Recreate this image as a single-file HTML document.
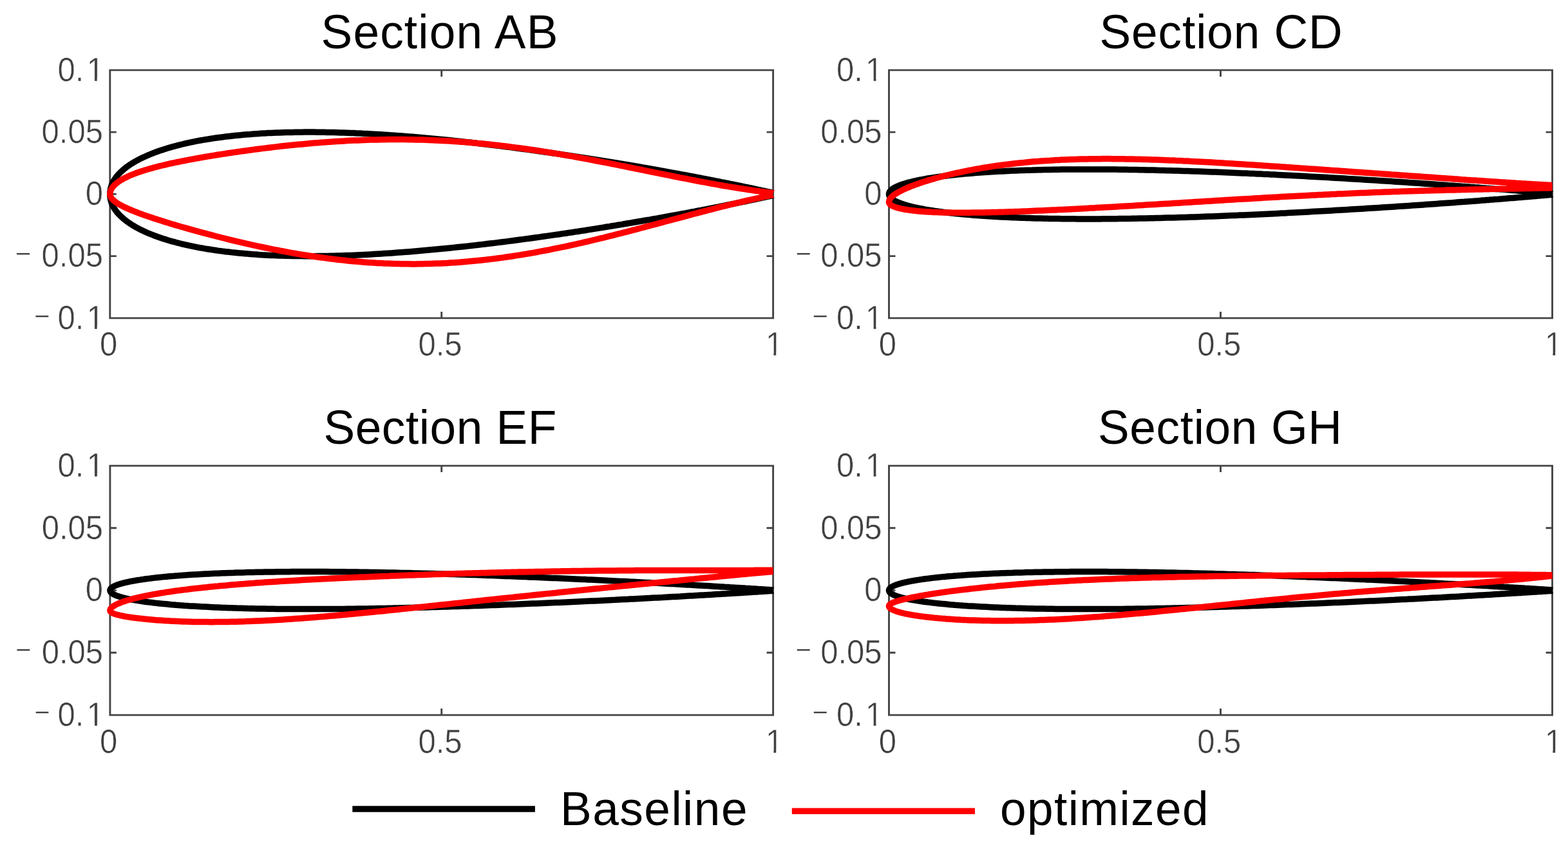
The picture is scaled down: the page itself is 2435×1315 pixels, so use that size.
<!DOCTYPE html>
<html><head><meta charset="utf-8"><title>Airfoil sections</title>
<style>html,body{margin:0;padding:0;background:#fff;overflow:hidden}svg{display:block}</style>
</head><body><svg width="2435" height="1315" viewBox="0 0 2435 1315" font-family="&quot;Liberation Sans&quot;, sans-serif"><rect width="100%" height="100%" fill="#fff"/><path d="M170.8,108.9 H1200.6 V493.9 H170.8 Z M170.8,493.9 h10 M1200.6,493.9 h-10 M170.8,397.6 h10 M1200.6,397.6 h-10 M170.8,301.4 h10 M1200.6,301.4 h-10 M170.8,205.1 h10 M1200.6,205.1 h-10 M170.8,108.9 h10 M1200.6,108.9 h-10 M170.8,493.9 v-10 M170.8,108.9 v10 M685.7,493.9 v-10 M685.7,108.9 v10 M1200.6,493.9 v-10 M1200.6,108.9 v10" fill="none" stroke="#444" stroke-width="2.9"/><path d="M1200.6,299.4 L1200.6,299.4 L1200.5,299.4 L1200.3,299.3 L1200.1,299.3 L1199.9,299.2 L1199.6,299.2 L1199.2,299.1 L1198.8,299.0 L1198.3,298.9 L1197.8,298.8 L1197.2,298.6 L1196.5,298.5 L1195.8,298.3 L1195.0,298.2 L1194.2,298.0 L1193.3,297.8 L1192.4,297.6 L1191.4,297.4 L1190.4,297.2 L1189.3,296.9 L1188.1,296.7 L1186.9,296.4 L1185.6,296.1 L1184.3,295.9 L1182.9,295.6 L1181.5,295.3 L1180.0,294.9 L1178.5,294.6 L1176.9,294.3 L1175.2,293.9 L1173.5,293.6 L1171.8,293.2 L1170.0,292.8 L1168.1,292.4 L1166.2,292.0 L1164.2,291.6 L1162.2,291.2 L1160.1,290.7 L1158.0,290.3 L1155.8,289.8 L1153.6,289.4 L1151.3,288.9 L1148.9,288.4 L1146.5,287.9 L1144.1,287.4 L1141.6,286.9 L1139.1,286.4 L1136.5,285.9 L1133.9,285.4 L1131.2,284.8 L1128.4,284.3 L1125.6,283.7 L1122.8,283.1 L1119.9,282.6 L1117.0,282.0 L1114.0,281.4 L1111.0,280.8 L1107.9,280.2 L1104.8,279.6 L1101.6,279.0 L1098.4,278.3 L1095.2,277.7 L1091.9,277.1 L1088.5,276.4 L1085.1,275.8 L1081.7,275.1 L1078.2,274.4 L1074.7,273.8 L1071.1,273.1 L1067.5,272.4 L1063.8,271.7 L1060.2,271.1 L1056.4,270.4 L1052.6,269.7 L1048.8,269.0 L1045.0,268.3 L1041.1,267.6 L1037.1,266.8 L1033.2,266.1 L1029.2,265.4 L1025.1,264.7 L1021.0,263.9 L1016.9,263.2 L1012.7,262.5 L1008.5,261.7 L1004.3,261.0 L1000.0,260.3 L995.7,259.5 L991.4,258.8 L987.0,258.0 L982.6,257.3 L978.2,256.5 L973.7,255.8 L969.2,255.0 L964.7,254.2 L960.1,253.5 L955.5,252.7 L950.9,252.0 L946.3,251.2 L941.6,250.5 L936.9,249.7 L932.1,248.9 L927.4,248.2 L922.6,247.4 L917.8,246.7 L912.9,245.9 L908.1,245.1 L903.2,244.4 L898.3,243.6 L893.3,242.9 L888.4,242.1 L883.4,241.4 L878.4,240.6 L873.3,239.9 L868.3,239.1 L863.2,238.4 L858.1,237.7 L853.0,236.9 L847.9,236.2 L842.8,235.5 L837.6,234.7 L832.4,234.0 L827.2,233.3 L822.0,232.6 L816.8,231.9 L811.5,231.2 L806.3,230.5 L801.0,229.8 L795.8,229.1 L790.5,228.4 L785.2,227.7 L779.8,227.1 L774.5,226.4 L769.2,225.7 L763.8,225.1 L758.5,224.5 L753.1,223.8 L747.8,223.2 L742.4,222.6 L737.0,221.9 L731.6,221.3 L726.2,220.7 L720.8,220.1 L715.4,219.5 L710.0,219.0 L704.6,218.4 L699.2,217.8 L693.8,217.3 L688.4,216.7 L683.0,216.2 L677.6,215.7 L672.2,215.2 L666.8,214.7 L661.4,214.2 L656.0,213.7 L650.6,213.2 L645.2,212.8 L639.8,212.3 L634.4,211.9 L629.0,211.5 L623.6,211.1 L618.3,210.7 L612.9,210.3 L607.6,209.9 L602.2,209.5 L596.9,209.2 L591.6,208.8 L586.2,208.5 L580.9,208.2 L575.6,207.9 L570.4,207.6 L565.1,207.4 L559.9,207.1 L554.6,206.9 L549.4,206.6 L544.2,206.4 L539.0,206.2 L533.8,206.1 L528.6,205.9 L523.5,205.7 L518.4,205.6 L513.3,205.5 L508.2,205.4 L503.1,205.3 L498.1,205.2 L493.0,205.2 L488.0,205.1 L483.0,205.1 L478.1,205.1 L473.1,205.1 L468.2,205.2 L463.3,205.2 L458.5,205.3 L453.6,205.4 L448.8,205.5 L444.0,205.6 L439.3,205.7 L434.5,205.9 L429.8,206.0 L425.1,206.2 L420.5,206.4 L415.9,206.6 L411.3,206.9 L406.7,207.1 L402.2,207.4 L397.7,207.7 L393.2,208.0 L388.8,208.4 L384.4,208.7 L380.0,209.1 L375.7,209.5 L371.4,209.9 L367.1,210.3 L362.9,210.7 L358.7,211.2 L354.5,211.7 L350.4,212.1 L346.3,212.7 L342.2,213.2 L338.2,213.7 L334.3,214.3 L330.3,214.9 L326.4,215.5 L322.6,216.1 L318.8,216.7 L315.0,217.4 L311.2,218.0 L307.6,218.7 L303.9,219.4 L300.3,220.1 L296.7,220.9 L293.2,221.6 L289.7,222.4 L286.3,223.2 L282.9,224.0 L279.5,224.8 L276.2,225.6 L273.0,226.5 L269.8,227.4 L266.6,228.2 L263.5,229.1 L260.4,230.0 L257.4,231.0 L254.4,231.9 L251.5,232.9 L248.6,233.8 L245.8,234.8 L243.0,235.8 L240.2,236.8 L237.5,237.9 L234.9,238.9 L232.3,240.0 L229.8,241.0 L227.3,242.1 L224.9,243.2 L222.5,244.3 L220.1,245.4 L217.8,246.5 L215.6,247.7 L213.4,248.8 L211.3,250.0 L209.2,251.2 L207.2,252.4 L205.2,253.6 L203.3,254.8 L201.4,256.0 L199.6,257.2 L197.9,258.5 L196.2,259.7 L194.5,261.0 L192.9,262.3 L191.4,263.6 L189.9,264.9 L188.5,266.2 L187.1,267.5 L185.8,268.8 L184.5,270.1 L183.3,271.5 L182.1,272.8 L181.0,274.2 L180.0,275.5 L179.0,276.9 L178.1,278.3 L177.2,279.7 L176.4,281.1 L175.6,282.5 L174.9,283.9 L174.2,285.3 L173.6,286.7 L173.1,288.2 L172.6,289.6 L172.2,291.1 L171.8,292.5 L171.5,294.0 L171.3,295.4 L171.1,296.9 L170.9,298.4 L170.8,299.9 L170.8,301.4 L170.8,302.9 L170.9,304.4 L171.1,305.9 L171.3,307.4 L171.5,308.8 L171.8,310.3 L172.2,311.7 L172.6,313.2 L173.1,314.6 L173.6,316.1 L174.2,317.5 L174.9,318.9 L175.6,320.3 L176.4,321.7 L177.2,323.1 L178.1,324.5 L179.0,325.9 L180.0,327.3 L181.0,328.6 L182.1,330.0 L183.3,331.3 L184.5,332.7 L185.8,334.0 L187.1,335.3 L188.5,336.6 L189.9,337.9 L191.4,339.2 L192.9,340.5 L194.5,341.8 L196.2,343.1 L197.9,344.3 L199.6,345.6 L201.4,346.8 L203.3,348.0 L205.2,349.2 L207.2,350.4 L209.2,351.6 L211.3,352.8 L213.4,354.0 L215.6,355.1 L217.8,356.3 L220.1,357.4 L222.5,358.5 L224.9,359.6 L227.3,360.7 L229.8,361.8 L232.3,362.8 L234.9,363.9 L237.5,364.9 L240.2,366.0 L243.0,367.0 L245.8,368.0 L248.6,369.0 L251.5,369.9 L254.4,370.9 L257.4,371.8 L260.4,372.8 L263.5,373.7 L266.6,374.6 L269.8,375.4 L273.0,376.3 L276.2,377.2 L279.5,378.0 L282.9,378.8 L286.3,379.6 L289.7,380.4 L293.2,381.2 L296.7,381.9 L300.3,382.7 L303.9,383.4 L307.6,384.1 L311.2,384.8 L315.0,385.4 L318.8,386.1 L322.6,386.7 L326.4,387.3 L330.3,387.9 L334.3,388.5 L338.2,389.1 L342.2,389.6 L346.3,390.1 L350.4,390.7 L354.5,391.1 L358.7,391.6 L362.9,392.1 L367.1,392.5 L371.4,392.9 L375.7,393.3 L380.0,393.7 L384.4,394.1 L388.8,394.4 L393.2,394.8 L397.7,395.1 L402.2,395.4 L406.7,395.7 L411.3,395.9 L415.9,396.2 L420.5,396.4 L425.1,396.6 L429.8,396.8 L434.5,396.9 L439.3,397.1 L444.0,397.2 L448.8,397.3 L453.6,397.4 L458.5,397.5 L463.3,397.6 L468.2,397.6 L473.1,397.7 L478.1,397.7 L483.0,397.7 L488.0,397.7 L493.0,397.6 L498.1,397.6 L503.1,397.5 L508.2,397.4 L513.3,397.3 L518.4,397.2 L523.5,397.1 L528.6,396.9 L533.8,396.7 L539.0,396.6 L544.2,396.4 L549.4,396.2 L554.6,395.9 L559.9,395.7 L565.1,395.4 L570.4,395.2 L575.6,394.9 L580.9,394.6 L586.2,394.3 L591.6,394.0 L596.9,393.6 L602.2,393.3 L607.6,392.9 L612.9,392.5 L618.3,392.1 L623.6,391.7 L629.0,391.3 L634.4,390.9 L639.8,390.5 L645.2,390.0 L650.6,389.6 L656.0,389.1 L661.4,388.6 L666.8,388.1 L672.2,387.6 L677.6,387.1 L683.0,386.6 L688.4,386.1 L693.8,385.5 L699.2,385.0 L704.6,384.4 L710.0,383.8 L715.4,383.3 L720.8,382.7 L726.2,382.1 L731.6,381.5 L737.0,380.9 L742.4,380.2 L747.8,379.6 L753.1,379.0 L758.5,378.3 L763.8,377.7 L769.2,377.1 L774.5,376.4 L779.8,375.7 L785.2,375.1 L790.5,374.4 L795.8,373.7 L801.0,373.0 L806.3,372.3 L811.5,371.6 L816.8,370.9 L822.0,370.2 L827.2,369.5 L832.4,368.8 L837.6,368.1 L842.8,367.3 L847.9,366.6 L853.0,365.9 L858.1,365.1 L863.2,364.4 L868.3,363.7 L873.3,362.9 L878.4,362.2 L883.4,361.4 L888.4,360.7 L893.3,359.9 L898.3,359.2 L903.2,358.4 L908.1,357.7 L912.9,356.9 L917.8,356.1 L922.6,355.4 L927.4,354.6 L932.1,353.9 L936.9,353.1 L941.6,352.3 L946.3,351.6 L950.9,350.8 L955.5,350.1 L960.1,349.3 L964.7,348.6 L969.2,347.8 L973.7,347.0 L978.2,346.3 L982.6,345.5 L987.0,344.8 L991.4,344.0 L995.7,343.3 L1000.0,342.5 L1004.3,341.8 L1008.5,341.1 L1012.7,340.3 L1016.9,339.6 L1021.0,338.9 L1025.1,338.1 L1029.2,337.4 L1033.2,336.7 L1037.1,336.0 L1041.1,335.2 L1045.0,334.5 L1048.8,333.8 L1052.6,333.1 L1056.4,332.4 L1060.2,331.7 L1063.8,331.1 L1067.5,330.4 L1071.1,329.7 L1074.7,329.0 L1078.2,328.4 L1081.7,327.7 L1085.1,327.0 L1088.5,326.4 L1091.9,325.7 L1095.2,325.1 L1098.4,324.5 L1101.6,323.8 L1104.8,323.2 L1107.9,322.6 L1111.0,322.0 L1114.0,321.4 L1117.0,320.8 L1119.9,320.2 L1122.8,319.7 L1125.6,319.1 L1128.4,318.5 L1131.2,318.0 L1133.9,317.4 L1136.5,316.9 L1139.1,316.4 L1141.6,315.9 L1144.1,315.4 L1146.5,314.9 L1148.9,314.4 L1151.3,313.9 L1153.6,313.4 L1155.8,313.0 L1158.0,312.5 L1160.1,312.1 L1162.2,311.6 L1164.2,311.2 L1166.2,310.8 L1168.1,310.4 L1170.0,310.0 L1171.8,309.6 L1173.5,309.2 L1175.2,308.9 L1176.9,308.5 L1178.5,308.2 L1180.0,307.9 L1181.5,307.5 L1182.9,307.2 L1184.3,306.9 L1185.6,306.7 L1186.9,306.4 L1188.1,306.1 L1189.3,305.9 L1190.4,305.6 L1191.4,305.4 L1192.4,305.2 L1193.3,305.0 L1194.2,304.8 L1195.0,304.6 L1195.8,304.5 L1196.5,304.3 L1197.2,304.2 L1197.8,304.0 L1198.3,303.9 L1198.8,303.8 L1199.2,303.7 L1199.6,303.6 L1199.9,303.6 L1200.1,303.5 L1200.3,303.5 L1200.5,303.4 L1200.6,303.4 L1200.6,303.4" fill="none" stroke="#000" stroke-width="9.5" stroke-linejoin="round" stroke-linecap="butt"/><path d="M1200.6,299.7 L1200.6,299.7 L1200.5,299.7 L1200.3,299.6 L1200.1,299.6 L1199.9,299.6 L1199.6,299.5 L1199.2,299.5 L1198.8,299.5 L1198.3,299.4 L1197.8,299.3 L1197.2,299.3 L1196.5,299.2 L1195.8,299.1 L1195.0,299.0 L1194.2,298.9 L1193.3,298.8 L1192.4,298.7 L1191.4,298.5 L1190.4,298.4 L1189.3,298.3 L1188.1,298.1 L1186.9,298.0 L1185.6,297.8 L1184.3,297.6 L1182.9,297.4 L1181.5,297.3 L1180.0,297.1 L1178.5,296.8 L1176.9,296.6 L1175.2,296.4 L1173.5,296.2 L1171.8,295.9 L1170.0,295.7 L1168.1,295.4 L1166.2,295.1 L1164.2,294.8 L1162.2,294.5 L1160.1,294.2 L1158.0,293.9 L1155.8,293.6 L1153.6,293.2 L1151.3,292.9 L1148.9,292.5 L1146.5,292.1 L1144.1,291.7 L1141.6,291.3 L1139.1,290.9 L1136.5,290.5 L1133.9,290.0 L1131.2,289.6 L1128.4,289.1 L1125.6,288.7 L1122.8,288.2 L1119.9,287.7 L1117.0,287.2 L1114.0,286.6 L1111.0,286.1 L1107.9,285.5 L1104.8,285.0 L1101.6,284.4 L1098.4,283.8 L1095.2,283.2 L1091.9,282.6 L1088.5,282.0 L1085.1,281.3 L1081.7,280.7 L1078.2,280.0 L1074.7,279.3 L1071.1,278.6 L1067.5,277.9 L1063.8,277.2 L1060.2,276.5 L1056.4,275.8 L1052.6,275.0 L1048.8,274.3 L1045.0,273.5 L1041.1,272.7 L1037.1,271.9 L1033.2,271.1 L1029.2,270.3 L1025.1,269.5 L1021.0,268.7 L1016.9,267.8 L1012.7,267.0 L1008.5,266.1 L1004.3,265.3 L1000.0,264.4 L995.7,263.5 L991.4,262.7 L987.0,261.8 L982.6,260.9 L978.2,260.0 L973.7,259.1 L969.2,258.2 L964.7,257.3 L960.1,256.4 L955.5,255.4 L950.9,254.5 L946.3,253.6 L941.6,252.7 L936.9,251.8 L932.1,250.9 L927.4,250.0 L922.6,249.0 L917.8,248.1 L912.9,247.2 L908.1,246.3 L903.2,245.4 L898.3,244.5 L893.3,243.6 L888.4,242.7 L883.4,241.8 L878.4,241.0 L873.3,240.1 L868.3,239.2 L863.2,238.4 L858.1,237.5 L853.0,236.7 L847.9,235.9 L842.8,235.1 L837.6,234.3 L832.4,233.5 L827.2,232.7 L822.0,232.0 L816.8,231.2 L811.5,230.5 L806.3,229.8 L801.0,229.1 L795.8,228.4 L790.5,227.7 L785.2,227.0 L779.8,226.4 L774.5,225.8 L769.2,225.2 L763.8,224.6 L758.5,224.0 L753.1,223.5 L747.8,223.0 L742.4,222.4 L737.0,222.0 L731.6,221.5 L726.2,221.0 L720.8,220.6 L715.4,220.2 L710.0,219.8 L704.6,219.5 L699.2,219.1 L693.8,218.8 L688.4,218.5 L683.0,218.2 L677.6,217.9 L672.2,217.7 L666.8,217.5 L661.4,217.3 L656.0,217.1 L650.6,217.0 L645.2,216.9 L639.8,216.8 L634.4,216.7 L629.0,216.6 L623.6,216.6 L618.3,216.5 L612.9,216.5 L607.6,216.6 L602.2,216.6 L596.9,216.7 L591.6,216.8 L586.2,216.9 L580.9,217.0 L575.6,217.1 L570.4,217.3 L565.1,217.5 L559.9,217.7 L554.6,217.9 L549.4,218.1 L544.2,218.3 L539.0,218.6 L533.8,218.9 L528.6,219.2 L523.5,219.5 L518.4,219.8 L513.3,220.2 L508.2,220.5 L503.1,220.9 L498.1,221.3 L493.0,221.7 L488.0,222.1 L483.0,222.5 L478.1,223.0 L473.1,223.4 L468.2,223.9 L463.3,224.3 L458.5,224.8 L453.6,225.3 L448.8,225.8 L444.0,226.3 L439.3,226.8 L434.5,227.3 L429.8,227.9 L425.1,228.4 L420.5,229.0 L415.9,229.5 L411.3,230.1 L406.7,230.6 L402.2,231.2 L397.7,231.8 L393.2,232.4 L388.8,233.0 L384.4,233.6 L380.0,234.2 L375.7,234.8 L371.4,235.4 L367.1,236.0 L362.9,236.6 L358.7,237.2 L354.5,237.8 L350.4,238.5 L346.3,239.1 L342.2,239.7 L338.2,240.3 L334.3,241.0 L330.3,241.6 L326.4,242.3 L322.6,242.9 L318.8,243.5 L315.0,244.2 L311.2,244.8 L307.6,245.5 L303.9,246.1 L300.3,246.8 L296.7,247.5 L293.2,248.1 L289.7,248.8 L286.3,249.5 L282.9,250.1 L279.5,250.8 L276.2,251.5 L273.0,252.2 L269.8,252.8 L266.6,253.5 L263.5,254.2 L260.4,254.9 L257.4,255.6 L254.4,256.3 L251.5,257.0 L248.6,257.7 L245.8,258.4 L243.0,259.1 L240.2,259.8 L237.5,260.6 L234.9,261.3 L232.3,262.0 L229.8,262.8 L227.3,263.5 L224.9,264.2 L222.5,265.0 L220.1,265.7 L217.8,266.5 L215.6,267.3 L213.4,268.0 L211.3,268.8 L209.2,269.6 L207.2,270.4 L205.2,271.2 L203.3,271.9 L201.4,272.7 L199.6,273.5 L197.9,274.4 L196.2,275.2 L194.5,276.0 L192.9,276.8 L191.4,277.6 L189.9,278.5 L188.5,279.3 L187.1,280.1 L185.8,281.0 L184.5,281.8 L183.3,282.7 L182.1,283.6 L181.0,284.4 L180.0,285.3 L179.0,286.2 L178.1,287.0 L177.2,287.9 L176.4,288.8 L175.6,289.7 L174.9,290.6 L174.2,291.5 L173.6,292.4 L173.1,293.3 L172.6,294.2 L172.2,295.1 L171.8,296.0 L171.5,296.9 L171.3,297.8 L171.1,298.7 L170.9,299.6 L170.8,300.5 L170.8,301.4 L170.8,302.1 L170.9,302.8 L171.1,303.5 L171.3,304.2 L171.5,304.9 L171.8,305.5 L172.2,306.2 L172.6,306.9 L173.1,307.6 L173.6,308.3 L174.2,309.0 L174.9,309.7 L175.6,310.4 L176.4,311.1 L177.2,311.9 L178.1,312.6 L179.0,313.3 L180.0,314.0 L181.0,314.7 L182.1,315.4 L183.3,316.2 L184.5,316.9 L185.8,317.6 L187.1,318.4 L188.5,319.1 L189.9,319.9 L191.4,320.6 L192.9,321.4 L194.5,322.1 L196.2,322.9 L197.9,323.7 L199.6,324.4 L201.4,325.2 L203.3,326.0 L205.2,326.8 L207.2,327.6 L209.2,328.4 L211.3,329.2 L213.4,330.0 L215.6,330.9 L217.8,331.7 L220.1,332.5 L222.5,333.4 L224.9,334.2 L227.3,335.1 L229.8,335.9 L232.3,336.8 L234.9,337.6 L237.5,338.5 L240.2,339.4 L243.0,340.3 L245.8,341.2 L248.6,342.1 L251.5,343.0 L254.4,343.9 L257.4,344.9 L260.4,345.8 L263.5,346.7 L266.6,347.7 L269.8,348.6 L273.0,349.6 L276.2,350.5 L279.5,351.5 L282.9,352.5 L286.3,353.4 L289.7,354.4 L293.2,355.4 L296.7,356.4 L300.3,357.4 L303.9,358.4 L307.6,359.4 L311.2,360.4 L315.0,361.4 L318.8,362.4 L322.6,363.4 L326.4,364.4 L330.3,365.4 L334.3,366.5 L338.2,367.5 L342.2,368.5 L346.3,369.5 L350.4,370.5 L354.5,371.6 L358.7,372.6 L362.9,373.6 L367.1,374.6 L371.4,375.6 L375.7,376.6 L380.0,377.6 L384.4,378.6 L388.8,379.6 L393.2,380.6 L397.7,381.6 L402.2,382.6 L406.7,383.5 L411.3,384.5 L415.9,385.4 L420.5,386.4 L425.1,387.3 L429.8,388.2 L434.5,389.1 L439.3,390.0 L444.0,390.9 L448.8,391.8 L453.6,392.7 L458.5,393.5 L463.3,394.4 L468.2,395.2 L473.1,396.0 L478.1,396.8 L483.0,397.5 L488.0,398.3 L493.0,399.0 L498.1,399.7 L503.1,400.4 L508.2,401.1 L513.3,401.7 L518.4,402.4 L523.5,403.0 L528.6,403.6 L533.8,404.1 L539.0,404.7 L544.2,405.2 L549.4,405.7 L554.6,406.1 L559.9,406.6 L565.1,407.0 L570.4,407.4 L575.6,407.7 L580.9,408.1 L586.2,408.4 L591.6,408.6 L596.9,408.9 L602.2,409.1 L607.6,409.3 L612.9,409.5 L618.3,409.6 L623.6,409.7 L629.0,409.8 L634.4,409.8 L639.8,409.9 L645.2,409.9 L650.6,409.8 L656.0,409.7 L661.4,409.6 L666.8,409.5 L672.2,409.3 L677.6,409.1 L683.0,408.9 L688.4,408.7 L693.8,408.4 L699.2,408.1 L704.6,407.7 L710.0,407.4 L715.4,407.0 L720.8,406.5 L726.2,406.1 L731.6,405.6 L737.0,405.1 L742.4,404.6 L747.8,404.0 L753.1,403.4 L758.5,402.8 L763.8,402.1 L769.2,401.5 L774.5,400.8 L779.8,400.1 L785.2,399.3 L790.5,398.5 L795.8,397.8 L801.0,396.9 L806.3,396.1 L811.5,395.3 L816.8,394.4 L822.0,393.5 L827.2,392.6 L832.4,391.7 L837.6,390.7 L842.8,389.7 L847.9,388.8 L853.0,387.8 L858.1,386.7 L863.2,385.7 L868.3,384.7 L873.3,383.6 L878.4,382.6 L883.4,381.5 L888.4,380.4 L893.3,379.3 L898.3,378.2 L903.2,377.1 L908.1,375.9 L912.9,374.8 L917.8,373.7 L922.6,372.5 L927.4,371.4 L932.1,370.2 L936.9,369.1 L941.6,367.9 L946.3,366.7 L950.9,365.6 L955.5,364.4 L960.1,363.2 L964.7,362.1 L969.2,360.9 L973.7,359.8 L978.2,358.6 L982.6,357.4 L987.0,356.3 L991.4,355.1 L995.7,354.0 L1000.0,352.9 L1004.3,351.7 L1008.5,350.6 L1012.7,349.5 L1016.9,348.4 L1021.0,347.3 L1025.1,346.2 L1029.2,345.1 L1033.2,344.0 L1037.1,343.0 L1041.1,341.9 L1045.0,340.9 L1048.8,339.8 L1052.6,338.8 L1056.4,337.8 L1060.2,336.8 L1063.8,335.8 L1067.5,334.8 L1071.1,333.9 L1074.7,332.9 L1078.2,332.0 L1081.7,331.1 L1085.1,330.2 L1088.5,329.3 L1091.9,328.4 L1095.2,327.6 L1098.4,326.7 L1101.6,325.9 L1104.8,325.1 L1107.9,324.3 L1111.0,323.5 L1114.0,322.7 L1117.0,321.9 L1119.9,321.2 L1122.8,320.5 L1125.6,319.8 L1128.4,319.1 L1131.2,318.4 L1133.9,317.7 L1136.5,317.1 L1139.1,316.4 L1141.6,315.8 L1144.1,315.2 L1146.5,314.6 L1148.9,314.1 L1151.3,313.5 L1153.6,313.0 L1155.8,312.4 L1158.0,311.9 L1160.1,311.4 L1162.2,310.9 L1164.2,310.5 L1166.2,310.0 L1168.1,309.6 L1170.0,309.2 L1171.8,308.8 L1173.5,308.4 L1175.2,308.0 L1176.9,307.6 L1178.5,307.3 L1180.0,306.9 L1181.5,306.6 L1182.9,306.3 L1184.3,306.0 L1185.6,305.7 L1186.9,305.4 L1188.1,305.2 L1189.3,304.9 L1190.4,304.7 L1191.4,304.5 L1192.4,304.3 L1193.3,304.1 L1194.2,303.9 L1195.0,303.7 L1195.8,303.5 L1196.5,303.4 L1197.2,303.3 L1197.8,303.1 L1198.3,303.0 L1198.8,302.9 L1199.2,302.8 L1199.6,302.8 L1199.9,302.7 L1200.1,302.6 L1200.3,302.6 L1200.5,302.6 L1200.6,302.6 L1200.6,302.6" fill="none" stroke="#f00" stroke-width="9.5" stroke-linejoin="round" stroke-linecap="butt"/><g fill="#404040" font-size="49" stroke="#fff" stroke-width="0.5"><text transform="translate(161.7,125.7) scale(1,1.06)" text-anchor="end">0.<tspan dx="4.1">1</tspan></text><text transform="translate(159.9,221.9) scale(1,1.06)" text-anchor="end">0.05</text><text transform="translate(159.9,318.2) scale(1,1.06)" text-anchor="end">0</text><text transform="translate(159.9,414.4) scale(1,1.06)" text-anchor="end">0.05</text><text x="23.8" y="408.3" font-size="42">−</text><text transform="translate(161.7,510.7) scale(1,1.06)" text-anchor="end">0.<tspan dx="4.1">1</tspan></text><text x="53.1" y="504.6" font-size="42">−</text><text transform="translate(168.6,551.8) scale(1,1.06)" text-anchor="middle">0</text><text transform="translate(683.5,551.8) scale(1,1.06)" text-anchor="middle">0.5</text><text transform="translate(1202.5,551.8) scale(1,1.06)" text-anchor="middle">1</text></g><path d="M137.20,121.30h9.75v6h-9.75z M150.75,121.30h9.3v6h-9.3z M137.20,506.30h9.75v6h-9.75z M150.75,506.30h9.3v6h-9.3z M1191.67,547.40h9.75v6h-9.75z M1205.22,547.40h9.3v6h-9.3z" fill="#fff"/><text transform="translate(498.5,74.7) scale(1,1.02)" font-size="73" letter-spacing="1.2" fill="#000">Section AB</text><path d="M1380.5,108.9 H2410.6 V493.9 H1380.5 Z M1380.5,493.9 h10 M2410.6,493.9 h-10 M1380.5,397.6 h10 M2410.6,397.6 h-10 M1380.5,301.4 h10 M2410.6,301.4 h-10 M1380.5,205.1 h10 M2410.6,205.1 h-10 M1380.5,108.9 h10 M2410.6,108.9 h-10 M1380.5,493.9 v-10 M1380.5,108.9 v10 M1895.5,493.9 v-10 M1895.5,108.9 v10 M2410.6,493.9 v-10 M2410.6,108.9 v10" fill="none" stroke="#444" stroke-width="2.9"/><path d="M2410.6,300.6 L2410.6,300.6 L2410.5,300.6 L2410.3,300.6 L2410.1,300.6 L2409.9,300.5 L2409.6,300.5 L2409.2,300.5 L2408.8,300.4 L2408.3,300.4 L2407.8,300.3 L2407.2,300.3 L2406.5,300.2 L2405.8,300.2 L2405.0,300.1 L2404.2,300.0 L2403.3,300.0 L2402.4,299.9 L2401.4,299.8 L2400.4,299.7 L2399.3,299.6 L2398.1,299.5 L2396.9,299.4 L2395.6,299.3 L2394.3,299.2 L2392.9,299.1 L2391.5,298.9 L2390.0,298.8 L2388.5,298.7 L2386.9,298.5 L2385.2,298.4 L2383.5,298.3 L2381.8,298.1 L2379.9,298.0 L2378.1,297.8 L2376.2,297.6 L2374.2,297.5 L2372.2,297.3 L2370.1,297.1 L2368.0,297.0 L2365.8,296.8 L2363.5,296.6 L2361.3,296.4 L2358.9,296.2 L2356.5,296.0 L2354.1,295.8 L2351.6,295.6 L2349.1,295.4 L2346.5,295.2 L2343.8,295.0 L2341.1,294.8 L2338.4,294.5 L2335.6,294.3 L2332.8,294.1 L2329.9,293.9 L2327.0,293.6 L2324.0,293.4 L2321.0,293.2 L2317.9,292.9 L2314.8,292.7 L2311.6,292.4 L2308.4,292.2 L2305.1,291.9 L2301.8,291.7 L2298.5,291.4 L2295.1,291.1 L2291.6,290.9 L2288.2,290.6 L2284.6,290.4 L2281.1,290.1 L2277.5,289.8 L2273.8,289.5 L2270.1,289.3 L2266.4,289.0 L2262.6,288.7 L2258.8,288.4 L2254.9,288.1 L2251.0,287.9 L2247.1,287.6 L2243.1,287.3 L2239.1,287.0 L2235.1,286.7 L2231.0,286.4 L2226.8,286.1 L2222.7,285.8 L2218.5,285.5 L2214.3,285.2 L2210.0,284.9 L2205.7,284.6 L2201.3,284.3 L2197.0,284.0 L2192.6,283.7 L2188.1,283.4 L2183.7,283.1 L2179.2,282.8 L2174.6,282.5 L2170.1,282.2 L2165.5,281.9 L2160.8,281.6 L2156.2,281.3 L2151.5,281.0 L2146.8,280.7 L2142.1,280.4 L2137.3,280.1 L2132.5,279.8 L2127.7,279.5 L2122.8,279.2 L2118.0,278.9 L2113.1,278.6 L2108.2,278.3 L2103.2,278.0 L2098.3,277.7 L2093.3,277.4 L2088.3,277.1 L2083.2,276.8 L2078.2,276.5 L2073.1,276.2 L2068.0,275.9 L2062.9,275.6 L2057.8,275.3 L2052.6,275.0 L2047.5,274.7 L2042.3,274.5 L2037.1,274.2 L2031.9,273.9 L2026.7,273.6 L2021.4,273.3 L2016.2,273.0 L2010.9,272.8 L2005.6,272.5 L2000.3,272.2 L1995.0,271.9 L1989.7,271.7 L1984.4,271.4 L1979.1,271.1 L1973.7,270.9 L1968.4,270.6 L1963.0,270.4 L1957.6,270.1 L1952.3,269.9 L1946.9,269.6 L1941.5,269.4 L1936.1,269.1 L1930.7,268.9 L1925.3,268.7 L1919.9,268.4 L1914.5,268.2 L1909.1,268.0 L1903.7,267.8 L1898.3,267.5 L1892.8,267.3 L1887.4,267.1 L1882.0,266.9 L1876.6,266.7 L1871.2,266.5 L1865.8,266.3 L1860.4,266.1 L1855.0,265.9 L1849.6,265.8 L1844.2,265.6 L1838.8,265.4 L1833.5,265.3 L1828.1,265.1 L1822.7,264.9 L1817.4,264.8 L1812.0,264.7 L1806.7,264.5 L1801.4,264.4 L1796.1,264.2 L1790.8,264.1 L1785.5,264.0 L1780.2,263.9 L1774.9,263.8 L1769.7,263.7 L1764.4,263.6 L1759.2,263.5 L1754.0,263.4 L1748.8,263.3 L1743.6,263.3 L1738.5,263.2 L1733.3,263.1 L1728.2,263.1 L1723.1,263.0 L1718.0,263.0 L1712.9,263.0 L1707.9,262.9 L1702.8,262.9 L1697.8,262.9 L1692.8,262.9 L1687.9,262.9 L1682.9,262.9 L1678.0,262.9 L1673.1,262.9 L1668.3,263.0 L1663.4,263.0 L1658.6,263.0 L1653.8,263.1 L1649.0,263.1 L1644.3,263.2 L1639.6,263.3 L1634.9,263.3 L1630.3,263.4 L1625.6,263.5 L1621.0,263.6 L1616.5,263.7 L1611.9,263.8 L1607.4,263.9 L1603.0,264.1 L1598.5,264.2 L1594.1,264.3 L1589.8,264.5 L1585.4,264.6 L1581.1,264.8 L1576.8,265.0 L1572.6,265.1 L1568.4,265.3 L1564.3,265.5 L1560.1,265.7 L1556.0,265.9 L1552.0,266.1 L1548.0,266.3 L1544.0,266.6 L1540.1,266.8 L1536.2,267.0 L1532.3,267.3 L1528.5,267.5 L1524.7,267.8 L1521.0,268.1 L1517.3,268.3 L1513.6,268.6 L1510.0,268.9 L1506.5,269.2 L1502.9,269.5 L1499.5,269.8 L1496.0,270.1 L1492.6,270.4 L1489.3,270.8 L1486.0,271.1 L1482.7,271.4 L1479.5,271.8 L1476.3,272.1 L1473.2,272.5 L1470.1,272.9 L1467.1,273.2 L1464.1,273.6 L1461.2,274.0 L1458.3,274.4 L1455.5,274.8 L1452.7,275.2 L1450.0,275.6 L1447.3,276.0 L1444.6,276.4 L1442.0,276.8 L1439.5,277.2 L1437.0,277.7 L1434.6,278.1 L1432.2,278.6 L1429.8,279.0 L1427.6,279.5 L1425.3,279.9 L1423.1,280.4 L1421.0,280.8 L1418.9,281.3 L1416.9,281.8 L1414.9,282.3 L1413.0,282.8 L1411.2,283.2 L1409.3,283.7 L1407.6,284.2 L1405.9,284.7 L1404.2,285.2 L1402.6,285.7 L1401.1,286.3 L1399.6,286.8 L1398.2,287.3 L1396.8,287.8 L1395.5,288.4 L1394.2,288.9 L1393.0,289.4 L1391.8,290.0 L1390.7,290.5 L1389.7,291.1 L1388.7,291.6 L1387.8,292.2 L1386.9,292.7 L1386.1,293.3 L1385.3,293.8 L1384.6,294.4 L1383.9,295.0 L1383.3,295.5 L1382.8,296.1 L1382.3,296.7 L1381.9,297.3 L1381.5,297.8 L1381.2,298.4 L1381.0,299.0 L1380.8,299.6 L1380.6,300.2 L1380.5,300.8 L1380.5,301.4 L1380.5,302.0 L1380.6,302.6 L1380.8,303.2 L1381.0,303.8 L1381.2,304.4 L1381.5,305.0 L1381.9,305.5 L1382.3,306.1 L1382.8,306.7 L1383.3,307.3 L1383.9,307.8 L1384.6,308.4 L1385.3,309.0 L1386.1,309.5 L1386.9,310.1 L1387.8,310.6 L1388.7,311.2 L1389.7,311.7 L1390.7,312.3 L1391.8,312.8 L1393.0,313.4 L1394.2,313.9 L1395.5,314.4 L1396.8,315.0 L1398.2,315.5 L1399.6,316.0 L1401.1,316.5 L1402.6,317.1 L1404.2,317.6 L1405.9,318.1 L1407.6,318.6 L1409.3,319.1 L1411.2,319.6 L1413.0,320.0 L1414.9,320.5 L1416.9,321.0 L1418.9,321.5 L1421.0,322.0 L1423.1,322.4 L1425.3,322.9 L1427.6,323.3 L1429.8,323.8 L1432.2,324.2 L1434.6,324.7 L1437.0,325.1 L1439.5,325.6 L1442.0,326.0 L1444.6,326.4 L1447.3,326.8 L1450.0,327.2 L1452.7,327.6 L1455.5,328.0 L1458.3,328.4 L1461.2,328.8 L1464.1,329.2 L1467.1,329.6 L1470.1,329.9 L1473.2,330.3 L1476.3,330.7 L1479.5,331.0 L1482.7,331.4 L1486.0,331.7 L1489.3,332.0 L1492.6,332.4 L1496.0,332.7 L1499.5,333.0 L1502.9,333.3 L1506.5,333.6 L1510.0,333.9 L1513.6,334.2 L1517.3,334.5 L1521.0,334.7 L1524.7,335.0 L1528.5,335.3 L1532.3,335.5 L1536.2,335.8 L1540.1,336.0 L1544.0,336.2 L1548.0,336.5 L1552.0,336.7 L1556.0,336.9 L1560.1,337.1 L1564.3,337.3 L1568.4,337.5 L1572.6,337.7 L1576.8,337.8 L1581.1,338.0 L1585.4,338.2 L1589.8,338.3 L1594.1,338.5 L1598.5,338.6 L1603.0,338.7 L1607.4,338.9 L1611.9,339.0 L1616.5,339.1 L1621.0,339.2 L1625.6,339.3 L1630.3,339.4 L1634.9,339.5 L1639.6,339.5 L1644.3,339.6 L1649.0,339.7 L1653.8,339.7 L1658.6,339.8 L1663.4,339.8 L1668.3,339.8 L1673.1,339.9 L1678.0,339.9 L1682.9,339.9 L1687.9,339.9 L1692.8,339.9 L1697.8,339.9 L1702.8,339.9 L1707.9,339.9 L1712.9,339.8 L1718.0,339.8 L1723.1,339.8 L1728.2,339.7 L1733.3,339.7 L1738.5,339.6 L1743.6,339.5 L1748.8,339.5 L1754.0,339.4 L1759.2,339.3 L1764.4,339.2 L1769.7,339.1 L1774.9,339.0 L1780.2,338.9 L1785.5,338.8 L1790.8,338.7 L1796.1,338.6 L1801.4,338.4 L1806.7,338.3 L1812.0,338.1 L1817.4,338.0 L1822.7,337.9 L1828.1,337.7 L1833.5,337.5 L1838.8,337.4 L1844.2,337.2 L1849.6,337.0 L1855.0,336.9 L1860.4,336.7 L1865.8,336.5 L1871.2,336.3 L1876.6,336.1 L1882.0,335.9 L1887.4,335.7 L1892.8,335.5 L1898.3,335.3 L1903.7,335.0 L1909.1,334.8 L1914.5,334.6 L1919.9,334.4 L1925.3,334.1 L1930.7,333.9 L1936.1,333.7 L1941.5,333.4 L1946.9,333.2 L1952.3,332.9 L1957.6,332.7 L1963.0,332.4 L1968.4,332.2 L1973.7,331.9 L1979.1,331.7 L1984.4,331.4 L1989.7,331.1 L1995.0,330.9 L2000.3,330.6 L2005.6,330.3 L2010.9,330.0 L2016.2,329.8 L2021.4,329.5 L2026.7,329.2 L2031.9,328.9 L2037.1,328.6 L2042.3,328.3 L2047.5,328.1 L2052.6,327.8 L2057.8,327.5 L2062.9,327.2 L2068.0,326.9 L2073.1,326.6 L2078.2,326.3 L2083.2,326.0 L2088.3,325.7 L2093.3,325.4 L2098.3,325.1 L2103.2,324.8 L2108.2,324.5 L2113.1,324.2 L2118.0,323.9 L2122.8,323.6 L2127.7,323.3 L2132.5,323.0 L2137.3,322.7 L2142.1,322.4 L2146.8,322.1 L2151.5,321.8 L2156.2,321.5 L2160.8,321.2 L2165.5,320.9 L2170.1,320.6 L2174.6,320.3 L2179.2,320.0 L2183.7,319.7 L2188.1,319.4 L2192.6,319.1 L2197.0,318.8 L2201.3,318.5 L2205.7,318.2 L2210.0,317.9 L2214.3,317.6 L2218.5,317.3 L2222.7,317.0 L2226.8,316.7 L2231.0,316.4 L2235.1,316.1 L2239.1,315.8 L2243.1,315.5 L2247.1,315.2 L2251.0,314.9 L2254.9,314.7 L2258.8,314.4 L2262.6,314.1 L2266.4,313.8 L2270.1,313.5 L2273.8,313.3 L2277.5,313.0 L2281.1,312.7 L2284.6,312.4 L2288.2,312.2 L2291.6,311.9 L2295.1,311.7 L2298.5,311.4 L2301.8,311.1 L2305.1,310.9 L2308.4,310.6 L2311.6,310.4 L2314.8,310.1 L2317.9,309.9 L2321.0,309.6 L2324.0,309.4 L2327.0,309.2 L2329.9,308.9 L2332.8,308.7 L2335.6,308.5 L2338.4,308.3 L2341.1,308.0 L2343.8,307.8 L2346.5,307.6 L2349.1,307.4 L2351.6,307.2 L2354.1,307.0 L2356.5,306.8 L2358.9,306.6 L2361.3,306.4 L2363.5,306.2 L2365.8,306.0 L2368.0,305.8 L2370.1,305.7 L2372.2,305.5 L2374.2,305.3 L2376.2,305.2 L2378.1,305.0 L2379.9,304.8 L2381.8,304.7 L2383.5,304.5 L2385.2,304.4 L2386.9,304.3 L2388.5,304.1 L2390.0,304.0 L2391.5,303.9 L2392.9,303.7 L2394.3,303.6 L2395.6,303.5 L2396.9,303.4 L2398.1,303.3 L2399.3,303.2 L2400.4,303.1 L2401.4,303.0 L2402.4,302.9 L2403.3,302.8 L2404.2,302.8 L2405.0,302.7 L2405.8,302.6 L2406.5,302.6 L2407.2,302.5 L2407.8,302.5 L2408.3,302.4 L2408.8,302.4 L2409.2,302.3 L2409.6,302.3 L2409.9,302.3 L2410.1,302.2 L2410.3,302.2 L2410.5,302.2 L2410.6,302.2 L2410.6,302.2" fill="none" stroke="#000" stroke-width="9.5" stroke-linejoin="round" stroke-linecap="butt"/><path d="M2410.6,287.5 L2410.6,287.5 L2410.5,287.5 L2410.3,287.5 L2410.1,287.5 L2409.9,287.5 L2409.6,287.5 L2409.2,287.5 L2408.8,287.4 L2408.3,287.4 L2407.8,287.4 L2407.2,287.4 L2406.5,287.3 L2405.8,287.3 L2405.0,287.3 L2404.2,287.2 L2403.3,287.2 L2402.4,287.1 L2401.4,287.1 L2400.4,287.0 L2399.3,286.9 L2398.1,286.9 L2396.9,286.8 L2395.6,286.7 L2394.3,286.7 L2392.9,286.6 L2391.5,286.5 L2390.0,286.4 L2388.5,286.3 L2386.9,286.3 L2385.2,286.2 L2383.5,286.1 L2381.8,286.0 L2379.9,285.9 L2378.1,285.7 L2376.2,285.6 L2374.2,285.5 L2372.2,285.4 L2370.1,285.3 L2368.0,285.1 L2365.8,285.0 L2363.5,284.9 L2361.3,284.7 L2358.9,284.6 L2356.5,284.4 L2354.1,284.3 L2351.6,284.1 L2349.1,284.0 L2346.5,283.8 L2343.8,283.6 L2341.1,283.5 L2338.4,283.3 L2335.6,283.1 L2332.8,282.9 L2329.9,282.7 L2327.0,282.5 L2324.0,282.3 L2321.0,282.1 L2317.9,281.9 L2314.8,281.7 L2311.6,281.5 L2308.4,281.3 L2305.1,281.1 L2301.8,280.8 L2298.5,280.6 L2295.1,280.4 L2291.6,280.1 L2288.2,279.9 L2284.6,279.7 L2281.1,279.4 L2277.5,279.2 L2273.8,278.9 L2270.1,278.7 L2266.4,278.4 L2262.6,278.1 L2258.8,277.9 L2254.9,277.6 L2251.0,277.3 L2247.1,277.1 L2243.1,276.8 L2239.1,276.5 L2235.1,276.2 L2231.0,275.9 L2226.8,275.6 L2222.7,275.3 L2218.5,275.0 L2214.3,274.7 L2210.0,274.4 L2205.7,274.1 L2201.3,273.8 L2197.0,273.5 L2192.6,273.2 L2188.1,272.9 L2183.7,272.6 L2179.2,272.3 L2174.6,271.9 L2170.1,271.6 L2165.5,271.3 L2160.8,271.0 L2156.2,270.6 L2151.5,270.3 L2146.8,270.0 L2142.1,269.6 L2137.3,269.3 L2132.5,269.0 L2127.7,268.6 L2122.8,268.3 L2118.0,267.9 L2113.1,267.6 L2108.2,267.2 L2103.2,266.9 L2098.3,266.5 L2093.3,266.2 L2088.3,265.8 L2083.2,265.5 L2078.2,265.1 L2073.1,264.8 L2068.0,264.4 L2062.9,264.1 L2057.8,263.7 L2052.6,263.3 L2047.5,263.0 L2042.3,262.6 L2037.1,262.3 L2031.9,261.9 L2026.7,261.5 L2021.4,261.2 L2016.2,260.8 L2010.9,260.4 L2005.6,260.1 L2000.3,259.7 L1995.0,259.3 L1989.7,259.0 L1984.4,258.6 L1979.1,258.3 L1973.7,257.9 L1968.4,257.5 L1963.0,257.2 L1957.6,256.8 L1952.3,256.5 L1946.9,256.1 L1941.5,255.8 L1936.1,255.4 L1930.7,255.1 L1925.3,254.7 L1919.9,254.4 L1914.5,254.1 L1909.1,253.7 L1903.7,253.4 L1898.3,253.1 L1892.8,252.7 L1887.4,252.4 L1882.0,252.1 L1876.6,251.8 L1871.2,251.5 L1865.8,251.2 L1860.4,250.9 L1855.0,250.7 L1849.6,250.4 L1844.2,250.1 L1838.8,249.9 L1833.5,249.6 L1828.1,249.4 L1822.7,249.1 L1817.4,248.9 L1812.0,248.7 L1806.7,248.5 L1801.4,248.3 L1796.1,248.1 L1790.8,247.9 L1785.5,247.7 L1780.2,247.6 L1774.9,247.4 L1769.7,247.3 L1764.4,247.2 L1759.2,247.1 L1754.0,247.0 L1748.8,246.9 L1743.6,246.8 L1738.5,246.7 L1733.3,246.7 L1728.2,246.7 L1723.1,246.6 L1718.0,246.6 L1712.9,246.6 L1707.9,246.7 L1702.8,246.7 L1697.8,246.8 L1692.8,246.8 L1687.9,246.9 L1682.9,247.0 L1678.0,247.1 L1673.1,247.3 L1668.3,247.4 L1663.4,247.6 L1658.6,247.7 L1653.8,247.9 L1649.0,248.1 L1644.3,248.4 L1639.6,248.6 L1634.9,248.9 L1630.3,249.2 L1625.6,249.4 L1621.0,249.8 L1616.5,250.1 L1611.9,250.4 L1607.4,250.8 L1603.0,251.1 L1598.5,251.5 L1594.1,251.9 L1589.8,252.4 L1585.4,252.8 L1581.1,253.2 L1576.8,253.7 L1572.6,254.2 L1568.4,254.7 L1564.3,255.2 L1560.1,255.7 L1556.0,256.2 L1552.0,256.8 L1548.0,257.3 L1544.0,257.9 L1540.1,258.5 L1536.2,259.1 L1532.3,259.7 L1528.5,260.3 L1524.7,260.9 L1521.0,261.6 L1517.3,262.2 L1513.6,262.9 L1510.0,263.6 L1506.5,264.3 L1502.9,264.9 L1499.5,265.6 L1496.0,266.3 L1492.6,267.1 L1489.3,267.8 L1486.0,268.5 L1482.7,269.2 L1479.5,270.0 L1476.3,270.7 L1473.2,271.5 L1470.1,272.2 L1467.1,273.0 L1464.1,273.7 L1461.2,274.5 L1458.3,275.3 L1455.5,276.0 L1452.7,276.8 L1450.0,277.6 L1447.3,278.4 L1444.6,279.1 L1442.0,279.9 L1439.5,280.7 L1437.0,281.5 L1434.6,282.3 L1432.2,283.0 L1429.8,283.8 L1427.6,284.6 L1425.3,285.4 L1423.1,286.1 L1421.0,286.9 L1418.9,287.7 L1416.9,288.4 L1414.9,289.2 L1413.0,290.0 L1411.2,290.7 L1409.3,291.5 L1407.6,292.2 L1405.9,293.0 L1404.2,293.7 L1402.6,294.5 L1401.1,295.2 L1399.6,296.0 L1398.2,296.7 L1396.8,297.4 L1395.5,298.1 L1394.2,298.9 L1393.0,299.6 L1391.8,300.3 L1390.7,301.0 L1389.7,301.7 L1388.7,302.4 L1387.8,303.1 L1386.9,303.8 L1386.1,304.5 L1385.3,305.2 L1384.6,305.9 L1383.9,306.6 L1383.3,307.2 L1382.8,307.9 L1382.3,308.6 L1381.9,309.3 L1381.5,309.9 L1381.2,310.6 L1381.0,311.3 L1380.8,311.9 L1380.6,312.6 L1380.5,313.3 L1380.5,313.9 L1380.5,314.3 L1380.6,314.8 L1380.8,315.2 L1381.0,315.6 L1381.2,316.1 L1381.5,316.5 L1381.9,316.9 L1382.3,317.3 L1382.8,317.7 L1383.3,318.2 L1383.9,318.6 L1384.6,319.0 L1385.3,319.4 L1386.1,319.8 L1386.9,320.2 L1387.8,320.5 L1388.7,320.9 L1389.7,321.3 L1390.7,321.7 L1391.8,322.0 L1393.0,322.4 L1394.2,322.7 L1395.5,323.1 L1396.8,323.4 L1398.2,323.7 L1399.6,324.1 L1401.1,324.4 L1402.6,324.7 L1404.2,325.0 L1405.9,325.3 L1407.6,325.6 L1409.3,325.8 L1411.2,326.1 L1413.0,326.4 L1414.9,326.6 L1416.9,326.9 L1418.9,327.1 L1421.0,327.3 L1423.1,327.6 L1425.3,327.8 L1427.6,328.0 L1429.8,328.2 L1432.2,328.3 L1434.6,328.5 L1437.0,328.7 L1439.5,328.8 L1442.0,329.0 L1444.6,329.1 L1447.3,329.3 L1450.0,329.4 L1452.7,329.5 L1455.5,329.6 L1458.3,329.7 L1461.2,329.8 L1464.1,329.9 L1467.1,330.0 L1470.1,330.0 L1473.2,330.1 L1476.3,330.1 L1479.5,330.2 L1482.7,330.2 L1486.0,330.2 L1489.3,330.2 L1492.6,330.2 L1496.0,330.2 L1499.5,330.2 L1502.9,330.2 L1506.5,330.2 L1510.0,330.1 L1513.6,330.1 L1517.3,330.1 L1521.0,330.0 L1524.7,329.9 L1528.5,329.9 L1532.3,329.8 L1536.2,329.7 L1540.1,329.6 L1544.0,329.5 L1548.0,329.4 L1552.0,329.3 L1556.0,329.2 L1560.1,329.1 L1564.3,328.9 L1568.4,328.8 L1572.6,328.7 L1576.8,328.5 L1581.1,328.4 L1585.4,328.2 L1589.8,328.0 L1594.1,327.9 L1598.5,327.7 L1603.0,327.5 L1607.4,327.3 L1611.9,327.1 L1616.5,326.9 L1621.0,326.7 L1625.6,326.5 L1630.3,326.3 L1634.9,326.1 L1639.6,325.9 L1644.3,325.6 L1649.0,325.4 L1653.8,325.2 L1658.6,324.9 L1663.4,324.7 L1668.3,324.4 L1673.1,324.2 L1678.0,323.9 L1682.9,323.7 L1687.9,323.4 L1692.8,323.1 L1697.8,322.9 L1702.8,322.6 L1707.9,322.3 L1712.9,322.0 L1718.0,321.7 L1723.1,321.5 L1728.2,321.2 L1733.3,320.9 L1738.5,320.6 L1743.6,320.3 L1748.8,320.0 L1754.0,319.7 L1759.2,319.4 L1764.4,319.1 L1769.7,318.7 L1774.9,318.4 L1780.2,318.1 L1785.5,317.8 L1790.8,317.5 L1796.1,317.2 L1801.4,316.8 L1806.7,316.5 L1812.0,316.2 L1817.4,315.9 L1822.7,315.5 L1828.1,315.2 L1833.5,314.9 L1838.8,314.6 L1844.2,314.2 L1849.6,313.9 L1855.0,313.6 L1860.4,313.2 L1865.8,312.9 L1871.2,312.6 L1876.6,312.3 L1882.0,311.9 L1887.4,311.6 L1892.8,311.3 L1898.3,310.9 L1903.7,310.6 L1909.1,310.3 L1914.5,310.0 L1919.9,309.6 L1925.3,309.3 L1930.7,309.0 L1936.1,308.7 L1941.5,308.4 L1946.9,308.1 L1952.3,307.7 L1957.6,307.4 L1963.0,307.1 L1968.4,306.8 L1973.7,306.5 L1979.1,306.2 L1984.4,305.9 L1989.7,305.6 L1995.0,305.3 L2000.3,305.1 L2005.6,304.8 L2010.9,304.5 L2016.2,304.2 L2021.4,303.9 L2026.7,303.7 L2031.9,303.4 L2037.1,303.1 L2042.3,302.9 L2047.5,302.6 L2052.6,302.4 L2057.8,302.1 L2062.9,301.9 L2068.0,301.6 L2073.1,301.4 L2078.2,301.1 L2083.2,300.9 L2088.3,300.7 L2093.3,300.5 L2098.3,300.2 L2103.2,300.0 L2108.2,299.8 L2113.1,299.6 L2118.0,299.4 L2122.8,299.2 L2127.7,299.0 L2132.5,298.8 L2137.3,298.6 L2142.1,298.5 L2146.8,298.3 L2151.5,298.1 L2156.2,297.9 L2160.8,297.8 L2165.5,297.6 L2170.1,297.4 L2174.6,297.3 L2179.2,297.1 L2183.7,297.0 L2188.1,296.8 L2192.6,296.7 L2197.0,296.6 L2201.3,296.4 L2205.7,296.3 L2210.0,296.2 L2214.3,296.0 L2218.5,295.9 L2222.7,295.8 L2226.8,295.7 L2231.0,295.6 L2235.1,295.5 L2239.1,295.4 L2243.1,295.3 L2247.1,295.1 L2251.0,295.0 L2254.9,295.0 L2258.8,294.9 L2262.6,294.8 L2266.4,294.7 L2270.1,294.6 L2273.8,294.5 L2277.5,294.4 L2281.1,294.3 L2284.6,294.3 L2288.2,294.2 L2291.6,294.1 L2295.1,294.0 L2298.5,294.0 L2301.8,293.9 L2305.1,293.8 L2308.4,293.8 L2311.6,293.7 L2314.8,293.6 L2317.9,293.6 L2321.0,293.5 L2324.0,293.4 L2327.0,293.4 L2329.9,293.3 L2332.8,293.3 L2335.6,293.2 L2338.4,293.2 L2341.1,293.1 L2343.8,293.1 L2346.5,293.0 L2349.1,293.0 L2351.6,292.9 L2354.1,292.9 L2356.5,292.8 L2358.9,292.8 L2361.3,292.7 L2363.5,292.7 L2365.8,292.6 L2368.0,292.6 L2370.1,292.6 L2372.2,292.5 L2374.2,292.5 L2376.2,292.5 L2378.1,292.4 L2379.9,292.4 L2381.8,292.3 L2383.5,292.3 L2385.2,292.3 L2386.9,292.2 L2388.5,292.2 L2390.0,292.2 L2391.5,292.2 L2392.9,292.1 L2394.3,292.1 L2395.6,292.1 L2396.9,292.1 L2398.1,292.0 L2399.3,292.0 L2400.4,292.0 L2401.4,292.0 L2402.4,291.9 L2403.3,291.9 L2404.2,291.9 L2405.0,291.9 L2405.8,291.9 L2406.5,291.9 L2407.2,291.8 L2407.8,291.8 L2408.3,291.8 L2408.8,291.8 L2409.2,291.8 L2409.6,291.8 L2409.9,291.8 L2410.1,291.8 L2410.3,291.8 L2410.5,291.8 L2410.6,291.8 L2410.6,291.8" fill="none" stroke="#f00" stroke-width="9.5" stroke-linejoin="round" stroke-linecap="butt"/><g fill="#404040" font-size="49" stroke="#fff" stroke-width="0.5"><text transform="translate(1371.3,125.7) scale(1,1.06)" text-anchor="end">0.<tspan dx="4.1">1</tspan></text><text transform="translate(1369.6,221.9) scale(1,1.06)" text-anchor="end">0.05</text><text transform="translate(1369.6,318.2) scale(1,1.06)" text-anchor="end">0</text><text transform="translate(1369.6,414.4) scale(1,1.06)" text-anchor="end">0.05</text><text x="1235.5" y="408.3" font-size="42">−</text><text transform="translate(1371.3,510.7) scale(1,1.06)" text-anchor="end">0.<tspan dx="4.1">1</tspan></text><text x="1261.5" y="504.6" font-size="42">−</text><text transform="translate(1378.3,551.8) scale(1,1.06)" text-anchor="middle">0</text><text transform="translate(1893.3,551.8) scale(1,1.06)" text-anchor="middle">0.5</text><text transform="translate(2412.5,551.8) scale(1,1.06)" text-anchor="middle">1</text></g><path d="M1346.90,121.30h9.75v6h-9.75z M1360.45,121.30h9.3v6h-9.3z M1346.90,506.30h9.75v6h-9.75z M1360.45,506.30h9.3v6h-9.3z M2401.68,547.40h9.75v6h-9.75z M2415.22,547.40h9.3v6h-9.3z" fill="#fff"/><text transform="translate(1707.5,74.7) scale(1,1.02)" font-size="73" letter-spacing="0.9" fill="#000">Section CD</text><path d="M170.9,723.1 H1200.6 V1110.1 H170.9 Z M170.9,1110.1 h10 M1200.6,1110.1 h-10 M170.9,1013.3 h10 M1200.6,1013.3 h-10 M170.9,916.6 h10 M1200.6,916.6 h-10 M170.9,819.8 h10 M1200.6,819.8 h-10 M170.9,723.1 h10 M1200.6,723.1 h-10 M170.9,1110.1 v-10 M170.9,723.1 v10 M685.7,1110.1 v-10 M685.7,723.1 v10 M1200.6,1110.1 v-10 M1200.6,723.1 v10" fill="none" stroke="#444" stroke-width="2.9"/><path d="M1200.6,916.0 L1200.6,916.0 L1200.5,916.0 L1200.3,916.0 L1200.1,916.0 L1199.9,915.9 L1199.6,915.9 L1199.2,915.9 L1198.8,915.9 L1198.3,915.8 L1197.8,915.8 L1197.2,915.8 L1196.5,915.7 L1195.8,915.7 L1195.0,915.6 L1194.2,915.6 L1193.3,915.5 L1192.4,915.5 L1191.4,915.4 L1190.4,915.3 L1189.3,915.2 L1188.1,915.2 L1186.9,915.1 L1185.6,915.0 L1184.3,914.9 L1182.9,914.8 L1181.5,914.7 L1180.0,914.7 L1178.5,914.6 L1176.9,914.4 L1175.2,914.3 L1173.5,914.2 L1171.8,914.1 L1170.0,914.0 L1168.1,913.9 L1166.2,913.8 L1164.2,913.6 L1162.2,913.5 L1160.1,913.4 L1158.0,913.3 L1155.8,913.1 L1153.6,913.0 L1151.3,912.8 L1148.9,912.7 L1146.6,912.5 L1144.1,912.4 L1141.6,912.2 L1139.1,912.1 L1136.5,911.9 L1133.9,911.8 L1131.2,911.6 L1128.4,911.4 L1125.6,911.3 L1122.8,911.1 L1119.9,910.9 L1117.0,910.7 L1114.0,910.6 L1111.0,910.4 L1107.9,910.2 L1104.8,910.0 L1101.6,909.8 L1098.4,909.6 L1095.2,909.5 L1091.9,909.3 L1088.5,909.1 L1085.1,908.9 L1081.7,908.7 L1078.2,908.5 L1074.7,908.3 L1071.1,908.1 L1067.5,907.9 L1063.9,907.7 L1060.2,907.5 L1056.4,907.2 L1052.7,907.0 L1048.8,906.8 L1045.0,906.6 L1041.1,906.4 L1037.2,906.2 L1033.2,906.0 L1029.2,905.7 L1025.1,905.5 L1021.0,905.3 L1016.9,905.1 L1012.8,904.9 L1008.6,904.6 L1004.3,904.4 L1000.1,904.2 L995.8,904.0 L991.4,903.7 L987.1,903.5 L982.7,903.3 L978.2,903.1 L973.8,902.8 L969.3,902.6 L964.7,902.4 L960.2,902.2 L955.6,901.9 L950.9,901.7 L946.3,901.5 L941.6,901.2 L936.9,901.0 L932.2,900.8 L927.4,900.5 L922.6,900.3 L917.8,900.1 L913.0,899.9 L908.1,899.6 L903.2,899.4 L898.3,899.2 L893.3,899.0 L888.4,898.7 L883.4,898.5 L878.4,898.3 L873.4,898.0 L868.3,897.8 L863.3,897.6 L858.2,897.4 L853.1,897.2 L847.9,896.9 L842.8,896.7 L837.6,896.5 L832.5,896.3 L827.3,896.1 L822.0,895.9 L816.8,895.6 L811.6,895.4 L806.3,895.2 L801.1,895.0 L795.8,894.8 L790.5,894.6 L785.2,894.4 L779.9,894.2 L774.6,894.0 L769.2,893.8 L763.9,893.6 L758.5,893.4 L753.2,893.2 L747.8,893.0 L742.4,892.8 L737.1,892.6 L731.7,892.5 L726.3,892.3 L720.9,892.1 L715.5,891.9 L710.1,891.7 L704.7,891.6 L699.3,891.4 L693.9,891.2 L688.5,891.1 L683.0,890.9 L677.6,890.8 L672.2,890.6 L666.8,890.4 L661.4,890.3 L656.0,890.2 L650.6,890.0 L645.2,889.9 L639.8,889.7 L634.4,889.6 L629.1,889.5 L623.7,889.4 L618.3,889.2 L613.0,889.1 L607.6,889.0 L602.3,888.9 L596.9,888.8 L591.6,888.7 L586.3,888.6 L581.0,888.5 L575.7,888.4 L570.4,888.3 L565.2,888.2 L559.9,888.2 L554.7,888.1 L549.5,888.0 L544.2,888.0 L539.0,887.9 L533.9,887.8 L528.7,887.8 L523.6,887.8 L518.4,887.7 L513.3,887.7 L508.2,887.6 L503.2,887.6 L498.1,887.6 L493.1,887.6 L488.1,887.6 L483.1,887.6 L478.2,887.6 L473.2,887.6 L468.3,887.6 L463.4,887.6 L458.5,887.6 L453.7,887.6 L448.9,887.7 L444.1,887.7 L439.3,887.7 L434.6,887.8 L429.9,887.8 L425.2,887.9 L420.6,888.0 L415.9,888.0 L411.3,888.1 L406.8,888.2 L402.2,888.3 L397.7,888.3 L393.3,888.4 L388.8,888.5 L384.4,888.6 L380.1,888.8 L375.7,888.9 L371.4,889.0 L367.2,889.1 L362.9,889.3 L358.7,889.4 L354.6,889.5 L350.5,889.7 L346.4,889.8 L342.3,890.0 L338.3,890.2 L334.3,890.3 L330.4,890.5 L326.5,890.7 L322.7,890.9 L318.8,891.1 L315.1,891.3 L311.3,891.5 L307.6,891.7 L304.0,891.9 L300.4,892.1 L296.8,892.3 L293.3,892.5 L289.8,892.8 L286.4,893.0 L283.0,893.3 L279.6,893.5 L276.3,893.8 L273.1,894.0 L269.9,894.3 L266.7,894.5 L263.6,894.8 L260.5,895.1 L257.5,895.4 L254.5,895.6 L251.6,895.9 L248.7,896.2 L245.9,896.5 L243.1,896.8 L240.3,897.1 L237.6,897.4 L235.0,897.8 L232.4,898.1 L229.9,898.4 L227.4,898.7 L224.9,899.0 L222.6,899.4 L220.2,899.7 L217.9,900.1 L215.7,900.4 L213.5,900.8 L211.4,901.1 L209.3,901.5 L207.3,901.8 L205.3,902.2 L203.4,902.5 L201.5,902.9 L199.7,903.3 L198.0,903.7 L196.3,904.0 L194.6,904.4 L193.0,904.8 L191.5,905.2 L190.0,905.6 L188.6,906.0 L187.2,906.4 L185.9,906.8 L184.6,907.2 L183.4,907.6 L182.2,908.0 L181.1,908.4 L180.1,908.8 L179.1,909.2 L178.2,909.6 L177.3,910.0 L176.5,910.5 L175.7,910.9 L175.0,911.3 L174.3,911.7 L173.7,912.2 L173.2,912.6 L172.7,913.0 L172.3,913.5 L171.9,913.9 L171.6,914.4 L171.4,914.8 L171.2,915.3 L171.0,915.7 L170.9,916.1 L170.9,916.6 L170.9,917.1 L171.0,917.5 L171.2,917.9 L171.4,918.4 L171.6,918.8 L171.9,919.3 L172.3,919.7 L172.7,920.2 L173.2,920.6 L173.7,921.0 L174.3,921.5 L175.0,921.9 L175.7,922.3 L176.5,922.7 L177.3,923.2 L178.2,923.6 L179.1,924.0 L180.1,924.4 L181.1,924.8 L182.2,925.2 L183.4,925.6 L184.6,926.0 L185.9,926.4 L187.2,926.8 L188.6,927.2 L190.0,927.6 L191.5,928.0 L193.0,928.4 L194.6,928.8 L196.3,929.2 L198.0,929.5 L199.7,929.9 L201.5,930.3 L203.4,930.7 L205.3,931.0 L207.3,931.4 L209.3,931.7 L211.4,932.1 L213.5,932.4 L215.7,932.8 L217.9,933.1 L220.2,933.5 L222.6,933.8 L224.9,934.2 L227.4,934.5 L229.9,934.8 L232.4,935.1 L235.0,935.4 L237.6,935.8 L240.3,936.1 L243.1,936.4 L245.9,936.7 L248.7,937.0 L251.6,937.3 L254.5,937.6 L257.5,937.8 L260.5,938.1 L263.6,938.4 L266.7,938.7 L269.9,938.9 L273.1,939.2 L276.3,939.4 L279.6,939.7 L283.0,939.9 L286.4,940.2 L289.8,940.4 L293.3,940.7 L296.8,940.9 L300.4,941.1 L304.0,941.3 L307.6,941.5 L311.3,941.7 L315.1,941.9 L318.8,942.1 L322.7,942.3 L326.5,942.5 L330.4,942.7 L334.3,942.9 L338.3,943.0 L342.3,943.2 L346.4,943.4 L350.5,943.5 L354.6,943.7 L358.7,943.8 L362.9,943.9 L367.2,944.1 L371.4,944.2 L375.7,944.3 L380.1,944.4 L384.4,944.6 L388.8,944.7 L393.3,944.8 L397.7,944.9 L402.2,944.9 L406.8,945.0 L411.3,945.1 L415.9,945.2 L420.6,945.2 L425.2,945.3 L429.9,945.4 L434.6,945.4 L439.3,945.5 L444.1,945.5 L448.9,945.5 L453.7,945.6 L458.5,945.6 L463.4,945.6 L468.3,945.6 L473.2,945.6 L478.2,945.6 L483.1,945.6 L488.1,945.6 L493.1,945.6 L498.1,945.6 L503.2,945.6 L508.2,945.6 L513.3,945.5 L518.4,945.5 L523.6,945.4 L528.7,945.4 L533.9,945.4 L539.0,945.3 L544.2,945.2 L549.5,945.2 L554.7,945.1 L559.9,945.0 L565.2,945.0 L570.4,944.9 L575.7,944.8 L581.0,944.7 L586.3,944.6 L591.6,944.5 L596.9,944.4 L602.3,944.3 L607.6,944.2 L613.0,944.1 L618.3,944.0 L623.7,943.8 L629.1,943.7 L634.4,943.6 L639.8,943.5 L645.2,943.3 L650.6,943.2 L656.0,943.0 L661.4,942.9 L666.8,942.8 L672.2,942.6 L677.6,942.4 L683.0,942.3 L688.5,942.1 L693.9,942.0 L699.3,941.8 L704.7,941.6 L710.1,941.5 L715.5,941.3 L720.9,941.1 L726.3,940.9 L731.7,940.7 L737.1,940.6 L742.4,940.4 L747.8,940.2 L753.2,940.0 L758.5,939.8 L763.9,939.6 L769.2,939.4 L774.6,939.2 L779.9,939.0 L785.2,938.8 L790.5,938.6 L795.8,938.4 L801.1,938.2 L806.3,938.0 L811.6,937.8 L816.8,937.6 L822.0,937.3 L827.3,937.1 L832.5,936.9 L837.6,936.7 L842.8,936.5 L847.9,936.3 L853.1,936.0 L858.2,935.8 L863.3,935.6 L868.3,935.4 L873.4,935.2 L878.4,934.9 L883.4,934.7 L888.4,934.5 L893.3,934.2 L898.3,934.0 L903.2,933.8 L908.1,933.6 L913.0,933.3 L917.8,933.1 L922.6,932.9 L927.4,932.7 L932.2,932.4 L936.9,932.2 L941.6,932.0 L946.3,931.7 L950.9,931.5 L955.6,931.3 L960.2,931.0 L964.7,930.8 L969.3,930.6 L973.8,930.4 L978.2,930.1 L982.7,929.9 L987.1,929.7 L991.4,929.5 L995.8,929.2 L1000.1,929.0 L1004.3,928.8 L1008.6,928.6 L1012.8,928.3 L1016.9,928.1 L1021.0,927.9 L1025.1,927.7 L1029.2,927.5 L1033.2,927.2 L1037.2,927.0 L1041.1,926.8 L1045.0,926.6 L1048.8,926.4 L1052.7,926.2 L1056.4,926.0 L1060.2,925.7 L1063.9,925.5 L1067.5,925.3 L1071.1,925.1 L1074.7,924.9 L1078.2,924.7 L1081.7,924.5 L1085.1,924.3 L1088.5,924.1 L1091.9,923.9 L1095.2,923.7 L1098.4,923.6 L1101.6,923.4 L1104.8,923.2 L1107.9,923.0 L1111.0,922.8 L1114.0,922.6 L1117.0,922.5 L1119.9,922.3 L1122.8,922.1 L1125.6,921.9 L1128.4,921.8 L1131.2,921.6 L1133.9,921.4 L1136.5,921.3 L1139.1,921.1 L1141.6,921.0 L1144.1,920.8 L1146.6,920.7 L1148.9,920.5 L1151.3,920.4 L1153.6,920.2 L1155.8,920.1 L1158.0,919.9 L1160.1,919.8 L1162.2,919.7 L1164.2,919.6 L1166.2,919.4 L1168.1,919.3 L1170.0,919.2 L1171.8,919.1 L1173.5,919.0 L1175.2,918.9 L1176.9,918.8 L1178.5,918.6 L1180.0,918.5 L1181.5,918.5 L1182.9,918.4 L1184.3,918.3 L1185.6,918.2 L1186.9,918.1 L1188.1,918.0 L1189.3,918.0 L1190.4,917.9 L1191.4,917.8 L1192.4,917.7 L1193.3,917.7 L1194.2,917.6 L1195.0,917.6 L1195.8,917.5 L1196.5,917.5 L1197.2,917.4 L1197.8,917.4 L1198.3,917.4 L1198.8,917.3 L1199.2,917.3 L1199.6,917.3 L1199.9,917.3 L1200.1,917.2 L1200.3,917.2 L1200.5,917.2 L1200.6,917.2 L1200.6,917.2" fill="none" stroke="#000" stroke-width="9.5" stroke-linejoin="round" stroke-linecap="butt"/><path d="M1200.6,885.3 L1200.6,885.3 L1200.5,885.3 L1200.3,885.3 L1200.1,885.3 L1199.9,885.3 L1199.6,885.3 L1199.2,885.3 L1198.8,885.3 L1198.3,885.3 L1197.8,885.3 L1197.2,885.3 L1196.5,885.3 L1195.8,885.3 L1195.0,885.3 L1194.2,885.3 L1193.3,885.3 L1192.4,885.3 L1191.4,885.3 L1190.4,885.3 L1189.3,885.3 L1188.1,885.3 L1186.9,885.3 L1185.6,885.3 L1184.3,885.3 L1182.9,885.3 L1181.5,885.3 L1180.0,885.3 L1178.5,885.3 L1176.9,885.3 L1175.2,885.3 L1173.5,885.3 L1171.8,885.3 L1170.0,885.4 L1168.1,885.4 L1166.2,885.4 L1164.2,885.4 L1162.2,885.4 L1160.1,885.4 L1158.0,885.4 L1155.8,885.4 L1153.6,885.4 L1151.3,885.4 L1148.9,885.4 L1146.6,885.4 L1144.1,885.4 L1141.6,885.4 L1139.1,885.4 L1136.5,885.4 L1133.9,885.4 L1131.2,885.4 L1128.4,885.4 L1125.6,885.4 L1122.8,885.4 L1119.9,885.4 L1117.0,885.4 L1114.0,885.4 L1111.0,885.4 L1107.9,885.4 L1104.8,885.4 L1101.6,885.4 L1098.4,885.4 L1095.2,885.4 L1091.9,885.4 L1088.5,885.4 L1085.1,885.4 L1081.7,885.4 L1078.2,885.4 L1074.7,885.4 L1071.1,885.4 L1067.5,885.4 L1063.9,885.4 L1060.2,885.4 L1056.4,885.4 L1052.7,885.4 L1048.8,885.4 L1045.0,885.4 L1041.1,885.4 L1037.2,885.4 L1033.2,885.5 L1029.2,885.5 L1025.1,885.5 L1021.0,885.5 L1016.9,885.5 L1012.8,885.5 L1008.6,885.5 L1004.3,885.6 L1000.1,885.6 L995.8,885.6 L991.4,885.6 L987.1,885.6 L982.7,885.7 L978.2,885.7 L973.8,885.7 L969.3,885.8 L964.7,885.8 L960.2,885.8 L955.6,885.9 L950.9,885.9 L946.3,885.9 L941.6,886.0 L936.9,886.0 L932.2,886.1 L927.4,886.1 L922.6,886.2 L917.8,886.2 L913.0,886.3 L908.1,886.3 L903.2,886.4 L898.3,886.5 L893.3,886.5 L888.4,886.6 L883.4,886.7 L878.4,886.8 L873.4,886.8 L868.3,886.9 L863.3,887.0 L858.2,887.1 L853.1,887.2 L847.9,887.3 L842.8,887.4 L837.6,887.5 L832.5,887.6 L827.3,887.7 L822.0,887.8 L816.8,887.9 L811.6,888.0 L806.3,888.1 L801.1,888.2 L795.8,888.3 L790.5,888.5 L785.2,888.6 L779.9,888.7 L774.6,888.8 L769.2,889.0 L763.9,889.1 L758.5,889.2 L753.2,889.4 L747.8,889.5 L742.4,889.7 L737.1,889.8 L731.7,890.0 L726.3,890.1 L720.9,890.3 L715.5,890.4 L710.1,890.6 L704.7,890.8 L699.3,890.9 L693.9,891.1 L688.5,891.3 L683.0,891.5 L677.6,891.6 L672.2,891.8 L666.8,892.0 L661.4,892.2 L656.0,892.4 L650.6,892.6 L645.2,892.7 L639.8,892.9 L634.4,893.1 L629.1,893.3 L623.7,893.5 L618.3,893.7 L613.0,893.9 L607.6,894.1 L602.3,894.4 L596.9,894.6 L591.6,894.8 L586.3,895.0 L581.0,895.2 L575.7,895.4 L570.4,895.7 L565.2,895.9 L559.9,896.1 L554.7,896.3 L549.5,896.6 L544.2,896.8 L539.0,897.0 L533.9,897.3 L528.7,897.5 L523.6,897.8 L518.4,898.0 L513.3,898.3 L508.2,898.5 L503.2,898.8 L498.1,899.0 L493.1,899.3 L488.1,899.5 L483.1,899.8 L478.2,900.1 L473.2,900.3 L468.3,900.6 L463.4,900.9 L458.5,901.2 L453.7,901.5 L448.9,901.7 L444.1,902.0 L439.3,902.3 L434.6,902.6 L429.9,902.9 L425.2,903.2 L420.6,903.5 L415.9,903.8 L411.3,904.1 L406.8,904.4 L402.2,904.8 L397.7,905.1 L393.3,905.4 L388.8,905.7 L384.4,906.1 L380.1,906.4 L375.7,906.7 L371.4,907.1 L367.2,907.4 L362.9,907.8 L358.7,908.1 L354.6,908.5 L350.5,908.9 L346.4,909.2 L342.3,909.6 L338.3,910.0 L334.3,910.3 L330.4,910.7 L326.5,911.1 L322.7,911.5 L318.8,911.9 L315.1,912.3 L311.3,912.7 L307.6,913.1 L304.0,913.5 L300.4,913.9 L296.8,914.3 L293.3,914.7 L289.8,915.2 L286.4,915.6 L283.0,916.0 L279.6,916.5 L276.3,916.9 L273.1,917.3 L269.9,917.8 L266.7,918.2 L263.6,918.7 L260.5,919.1 L257.5,919.6 L254.5,920.1 L251.6,920.5 L248.7,921.0 L245.9,921.5 L243.1,922.0 L240.3,922.4 L237.6,922.9 L235.0,923.4 L232.4,923.9 L229.9,924.4 L227.4,924.9 L224.9,925.4 L222.6,925.9 L220.2,926.4 L217.9,926.9 L215.7,927.4 L213.5,927.9 L211.4,928.4 L209.3,928.9 L207.3,929.4 L205.3,929.9 L203.4,930.5 L201.5,931.0 L199.7,931.5 L198.0,932.0 L196.3,932.5 L194.6,933.1 L193.0,933.6 L191.5,934.1 L190.0,934.6 L188.6,935.1 L187.2,935.7 L185.9,936.2 L184.6,936.7 L183.4,937.2 L182.2,937.8 L181.1,938.3 L180.1,938.8 L179.1,939.3 L178.2,939.9 L177.3,940.4 L176.5,940.9 L175.7,941.4 L175.0,941.9 L174.3,942.4 L173.7,943.0 L173.2,943.5 L172.7,944.0 L172.3,944.5 L171.9,945.0 L171.6,945.5 L171.4,946.0 L171.2,946.5 L171.0,947.0 L170.9,947.5 L170.9,947.9 L170.9,948.3 L171.0,948.6 L171.2,949.0 L171.4,949.3 L171.6,949.7 L171.9,950.0 L172.3,950.3 L172.7,950.7 L173.2,951.0 L173.7,951.3 L174.3,951.6 L175.0,952.0 L175.7,952.3 L176.5,952.6 L177.3,952.9 L178.2,953.2 L179.1,953.5 L180.1,953.8 L181.1,954.1 L182.2,954.4 L183.4,954.7 L184.6,955.0 L185.9,955.3 L187.2,955.6 L188.6,955.9 L190.0,956.2 L191.5,956.5 L193.0,956.8 L194.6,957.1 L196.3,957.4 L198.0,957.7 L199.7,957.9 L201.5,958.2 L203.4,958.5 L205.3,958.8 L207.3,959.0 L209.3,959.3 L211.4,959.6 L213.5,959.8 L215.7,960.1 L217.9,960.3 L220.2,960.6 L222.6,960.8 L224.9,961.1 L227.4,961.3 L229.9,961.6 L232.4,961.8 L235.0,962.0 L237.6,962.2 L240.3,962.5 L243.1,962.7 L245.9,962.9 L248.7,963.1 L251.6,963.3 L254.5,963.5 L257.5,963.7 L260.5,963.8 L263.6,964.0 L266.7,964.2 L269.9,964.3 L273.1,964.5 L276.3,964.6 L279.6,964.7 L283.0,964.9 L286.4,965.0 L289.8,965.1 L293.3,965.2 L296.8,965.3 L300.4,965.4 L304.0,965.4 L307.6,965.5 L311.3,965.6 L315.1,965.6 L318.8,965.6 L322.7,965.6 L326.5,965.7 L330.4,965.7 L334.3,965.6 L338.3,965.6 L342.3,965.6 L346.4,965.5 L350.5,965.5 L354.6,965.4 L358.7,965.3 L362.9,965.3 L367.2,965.2 L371.4,965.0 L375.7,964.9 L380.1,964.8 L384.4,964.6 L388.8,964.5 L393.3,964.3 L397.7,964.1 L402.2,963.9 L406.8,963.7 L411.3,963.5 L415.9,963.2 L420.6,963.0 L425.2,962.7 L429.9,962.5 L434.6,962.2 L439.3,961.9 L444.1,961.6 L448.9,961.3 L453.7,961.0 L458.5,960.6 L463.4,960.3 L468.3,959.9 L473.2,959.6 L478.2,959.2 L483.1,958.8 L488.1,958.4 L493.1,958.0 L498.1,957.6 L503.2,957.2 L508.2,956.8 L513.3,956.3 L518.4,955.9 L523.6,955.4 L528.7,955.0 L533.9,954.5 L539.0,954.0 L544.2,953.5 L549.5,953.0 L554.7,952.5 L559.9,952.0 L565.2,951.5 L570.4,951.0 L575.7,950.5 L581.0,950.0 L586.3,949.4 L591.6,948.9 L596.9,948.4 L602.3,947.8 L607.6,947.3 L613.0,946.7 L618.3,946.2 L623.7,945.6 L629.1,945.0 L634.4,944.5 L639.8,943.9 L645.2,943.3 L650.6,942.8 L656.0,942.2 L661.4,941.6 L666.8,941.1 L672.2,940.5 L677.6,939.9 L683.0,939.3 L688.5,938.7 L693.9,938.2 L699.3,937.6 L704.7,937.0 L710.1,936.4 L715.5,935.9 L720.9,935.3 L726.3,934.7 L731.7,934.1 L737.1,933.6 L742.4,933.0 L747.8,932.4 L753.2,931.8 L758.5,931.3 L763.9,930.7 L769.2,930.1 L774.6,929.6 L779.9,929.0 L785.2,928.5 L790.5,927.9 L795.8,927.4 L801.1,926.8 L806.3,926.2 L811.6,925.7 L816.8,925.2 L822.0,924.6 L827.3,924.1 L832.5,923.5 L837.6,923.0 L842.8,922.5 L847.9,921.9 L853.1,921.4 L858.2,920.9 L863.3,920.4 L868.3,919.8 L873.4,919.3 L878.4,918.8 L883.4,918.3 L888.4,917.8 L893.3,917.3 L898.3,916.8 L903.2,916.3 L908.1,915.8 L913.0,915.3 L917.8,914.8 L922.6,914.3 L927.4,913.8 L932.2,913.4 L936.9,912.9 L941.6,912.4 L946.3,911.9 L950.9,911.5 L955.6,911.0 L960.2,910.6 L964.7,910.1 L969.3,909.6 L973.8,909.2 L978.2,908.8 L982.7,908.3 L987.1,907.9 L991.4,907.4 L995.8,907.0 L1000.1,906.6 L1004.3,906.2 L1008.6,905.7 L1012.8,905.3 L1016.9,904.9 L1021.0,904.5 L1025.1,904.1 L1029.2,903.7 L1033.2,903.3 L1037.2,902.9 L1041.1,902.5 L1045.0,902.1 L1048.8,901.7 L1052.7,901.4 L1056.4,901.0 L1060.2,900.6 L1063.9,900.3 L1067.5,899.9 L1071.1,899.5 L1074.7,899.2 L1078.2,898.9 L1081.7,898.5 L1085.1,898.2 L1088.5,897.8 L1091.9,897.5 L1095.2,897.2 L1098.4,896.9 L1101.6,896.6 L1104.8,896.3 L1107.9,896.0 L1111.0,895.7 L1114.0,895.4 L1117.0,895.1 L1119.9,894.8 L1122.8,894.5 L1125.6,894.3 L1128.4,894.0 L1131.2,893.7 L1133.9,893.5 L1136.5,893.2 L1139.1,893.0 L1141.6,892.7 L1144.1,892.5 L1146.6,892.3 L1148.9,892.0 L1151.3,891.8 L1153.6,891.6 L1155.8,891.4 L1158.0,891.2 L1160.1,891.0 L1162.2,890.8 L1164.2,890.6 L1166.2,890.4 L1168.1,890.3 L1170.0,890.1 L1171.8,889.9 L1173.5,889.8 L1175.2,889.6 L1176.9,889.5 L1178.5,889.3 L1180.0,889.2 L1181.5,889.1 L1182.9,888.9 L1184.3,888.8 L1185.6,888.7 L1186.9,888.6 L1188.1,888.5 L1189.3,888.4 L1190.4,888.3 L1191.4,888.2 L1192.4,888.1 L1193.3,888.0 L1194.2,887.9 L1195.0,887.9 L1195.8,887.8 L1196.5,887.7 L1197.2,887.7 L1197.8,887.6 L1198.3,887.6 L1198.8,887.5 L1199.2,887.5 L1199.6,887.5 L1199.9,887.4 L1200.1,887.4 L1200.3,887.4 L1200.5,887.4 L1200.6,887.4 L1200.6,887.4" fill="none" stroke="#f00" stroke-width="9.5" stroke-linejoin="round" stroke-linecap="butt"/><g fill="#404040" font-size="49" stroke="#fff" stroke-width="0.5"><text transform="translate(161.8,739.9) scale(1,1.06)" text-anchor="end">0.<tspan dx="4.1">1</tspan></text><text transform="translate(160.0,836.6) scale(1,1.06)" text-anchor="end">0.05</text><text transform="translate(160.0,933.4) scale(1,1.06)" text-anchor="end">0</text><text transform="translate(160.0,1030.1) scale(1,1.06)" text-anchor="end">0.05</text><text x="23.9" y="1023.0" font-size="42">−</text><text transform="translate(161.8,1126.9) scale(1,1.06)" text-anchor="end">0.<tspan dx="4.1">1</tspan></text><text x="53.2" y="1119.8" font-size="42">−</text><text transform="translate(168.7,1169.3) scale(1,1.06)" text-anchor="middle">0</text><text transform="translate(683.5,1169.3) scale(1,1.06)" text-anchor="middle">0.5</text><text transform="translate(1202.5,1169.3) scale(1,1.06)" text-anchor="middle">1</text></g><path d="M137.30,735.50h9.75v6h-9.75z M150.85,735.50h9.3v6h-9.3z M137.30,1122.50h9.75v6h-9.75z M150.85,1122.50h9.3v6h-9.3z M1191.67,1164.90h9.75v6h-9.75z M1205.22,1164.90h9.3v6h-9.3z" fill="#fff"/><text transform="translate(502.5,689.2) scale(1,1.02)" font-size="73" letter-spacing="0.55" fill="#000">Section EF</text><path d="M1380.5,723.1 H2410.6 V1110.1 H1380.5 Z M1380.5,1110.1 h10 M2410.6,1110.1 h-10 M1380.5,1013.3 h10 M2410.6,1013.3 h-10 M1380.5,916.6 h10 M2410.6,916.6 h-10 M1380.5,819.8 h10 M2410.6,819.8 h-10 M1380.5,723.1 h10 M2410.6,723.1 h-10 M1380.5,1110.1 v-10 M1380.5,723.1 v10 M1895.5,1110.1 v-10 M1895.5,723.1 v10 M2410.6,1110.1 v-10 M2410.6,723.1 v10" fill="none" stroke="#444" stroke-width="2.9"/><path d="M2410.6,916.0 L2410.6,916.0 L2410.5,916.0 L2410.3,916.0 L2410.1,916.0 L2409.9,915.9 L2409.6,915.9 L2409.2,915.9 L2408.8,915.9 L2408.3,915.8 L2407.8,915.8 L2407.2,915.8 L2406.5,915.7 L2405.8,915.7 L2405.0,915.6 L2404.2,915.6 L2403.3,915.5 L2402.4,915.5 L2401.4,915.4 L2400.4,915.3 L2399.3,915.2 L2398.1,915.2 L2396.9,915.1 L2395.6,915.0 L2394.3,914.9 L2392.9,914.8 L2391.5,914.7 L2390.0,914.7 L2388.5,914.6 L2386.9,914.4 L2385.2,914.3 L2383.5,914.2 L2381.8,914.1 L2379.9,914.0 L2378.1,913.9 L2376.2,913.8 L2374.2,913.6 L2372.2,913.5 L2370.1,913.4 L2368.0,913.3 L2365.8,913.1 L2363.5,913.0 L2361.3,912.8 L2358.9,912.7 L2356.5,912.5 L2354.1,912.4 L2351.6,912.2 L2349.1,912.1 L2346.5,911.9 L2343.8,911.8 L2341.1,911.6 L2338.4,911.4 L2335.6,911.3 L2332.8,911.1 L2329.9,910.9 L2327.0,910.7 L2324.0,910.6 L2321.0,910.4 L2317.9,910.2 L2314.8,910.0 L2311.6,909.8 L2308.4,909.6 L2305.1,909.5 L2301.8,909.3 L2298.5,909.1 L2295.1,908.9 L2291.6,908.7 L2288.2,908.5 L2284.6,908.3 L2281.1,908.1 L2277.5,907.9 L2273.8,907.7 L2270.1,907.5 L2266.4,907.2 L2262.6,907.0 L2258.8,906.8 L2254.9,906.6 L2251.0,906.4 L2247.1,906.2 L2243.1,906.0 L2239.1,905.7 L2235.1,905.5 L2231.0,905.3 L2226.8,905.1 L2222.7,904.9 L2218.5,904.6 L2214.3,904.4 L2210.0,904.2 L2205.7,904.0 L2201.3,903.7 L2197.0,903.5 L2192.6,903.3 L2188.1,903.1 L2183.7,902.8 L2179.2,902.6 L2174.6,902.4 L2170.1,902.2 L2165.5,901.9 L2160.8,901.7 L2156.2,901.5 L2151.5,901.2 L2146.8,901.0 L2142.1,900.8 L2137.3,900.5 L2132.5,900.3 L2127.7,900.1 L2122.8,899.9 L2118.0,899.6 L2113.1,899.4 L2108.2,899.2 L2103.2,899.0 L2098.3,898.7 L2093.3,898.5 L2088.3,898.3 L2083.2,898.0 L2078.2,897.8 L2073.1,897.6 L2068.0,897.4 L2062.9,897.2 L2057.8,896.9 L2052.6,896.7 L2047.5,896.5 L2042.3,896.3 L2037.1,896.1 L2031.9,895.9 L2026.7,895.6 L2021.4,895.4 L2016.2,895.2 L2010.9,895.0 L2005.6,894.8 L2000.3,894.6 L1995.0,894.4 L1989.7,894.2 L1984.4,894.0 L1979.1,893.8 L1973.7,893.6 L1968.4,893.4 L1963.0,893.2 L1957.6,893.0 L1952.3,892.8 L1946.9,892.6 L1941.5,892.5 L1936.1,892.3 L1930.7,892.1 L1925.3,891.9 L1919.9,891.7 L1914.5,891.6 L1909.1,891.4 L1903.7,891.2 L1898.3,891.1 L1892.8,890.9 L1887.4,890.8 L1882.0,890.6 L1876.6,890.4 L1871.2,890.3 L1865.8,890.2 L1860.4,890.0 L1855.0,889.9 L1849.6,889.7 L1844.2,889.6 L1838.8,889.5 L1833.5,889.4 L1828.1,889.2 L1822.7,889.1 L1817.4,889.0 L1812.0,888.9 L1806.7,888.8 L1801.4,888.7 L1796.1,888.6 L1790.8,888.5 L1785.5,888.4 L1780.2,888.3 L1774.9,888.2 L1769.7,888.2 L1764.4,888.1 L1759.2,888.0 L1754.0,888.0 L1748.8,887.9 L1743.6,887.8 L1738.5,887.8 L1733.3,887.8 L1728.2,887.7 L1723.1,887.7 L1718.0,887.6 L1712.9,887.6 L1707.9,887.6 L1702.8,887.6 L1697.8,887.6 L1692.8,887.6 L1687.9,887.6 L1682.9,887.6 L1678.0,887.6 L1673.1,887.6 L1668.3,887.6 L1663.4,887.6 L1658.6,887.7 L1653.8,887.7 L1649.0,887.7 L1644.3,887.8 L1639.6,887.8 L1634.9,887.9 L1630.3,888.0 L1625.6,888.0 L1621.0,888.1 L1616.5,888.2 L1611.9,888.3 L1607.4,888.3 L1603.0,888.4 L1598.5,888.5 L1594.1,888.6 L1589.8,888.8 L1585.4,888.9 L1581.1,889.0 L1576.8,889.1 L1572.6,889.3 L1568.4,889.4 L1564.3,889.5 L1560.1,889.7 L1556.0,889.8 L1552.0,890.0 L1548.0,890.2 L1544.0,890.3 L1540.1,890.5 L1536.2,890.7 L1532.3,890.9 L1528.5,891.1 L1524.7,891.3 L1521.0,891.5 L1517.3,891.7 L1513.6,891.9 L1510.0,892.1 L1506.5,892.3 L1502.9,892.5 L1499.5,892.8 L1496.0,893.0 L1492.6,893.3 L1489.3,893.5 L1486.0,893.8 L1482.7,894.0 L1479.5,894.3 L1476.3,894.5 L1473.2,894.8 L1470.1,895.1 L1467.1,895.4 L1464.1,895.6 L1461.2,895.9 L1458.3,896.2 L1455.5,896.5 L1452.7,896.8 L1450.0,897.1 L1447.3,897.4 L1444.6,897.8 L1442.0,898.1 L1439.5,898.4 L1437.0,898.7 L1434.6,899.0 L1432.2,899.4 L1429.8,899.7 L1427.6,900.1 L1425.3,900.4 L1423.1,900.8 L1421.0,901.1 L1418.9,901.5 L1416.9,901.8 L1414.9,902.2 L1413.0,902.5 L1411.2,902.9 L1409.3,903.3 L1407.6,903.7 L1405.9,904.0 L1404.2,904.4 L1402.6,904.8 L1401.1,905.2 L1399.6,905.6 L1398.2,906.0 L1396.8,906.4 L1395.5,906.8 L1394.2,907.2 L1393.0,907.6 L1391.8,908.0 L1390.7,908.4 L1389.7,908.8 L1388.7,909.2 L1387.8,909.6 L1386.9,910.0 L1386.1,910.5 L1385.3,910.9 L1384.6,911.3 L1383.9,911.7 L1383.3,912.2 L1382.8,912.6 L1382.3,913.0 L1381.9,913.5 L1381.5,913.9 L1381.2,914.4 L1381.0,914.8 L1380.8,915.3 L1380.6,915.7 L1380.5,916.1 L1380.5,916.6 L1380.5,917.1 L1380.6,917.5 L1380.8,917.9 L1381.0,918.4 L1381.2,918.8 L1381.5,919.3 L1381.9,919.7 L1382.3,920.2 L1382.8,920.6 L1383.3,921.0 L1383.9,921.5 L1384.6,921.9 L1385.3,922.3 L1386.1,922.7 L1386.9,923.2 L1387.8,923.6 L1388.7,924.0 L1389.7,924.4 L1390.7,924.8 L1391.8,925.2 L1393.0,925.6 L1394.2,926.0 L1395.5,926.4 L1396.8,926.8 L1398.2,927.2 L1399.6,927.6 L1401.1,928.0 L1402.6,928.4 L1404.2,928.8 L1405.9,929.2 L1407.6,929.5 L1409.3,929.9 L1411.2,930.3 L1413.0,930.7 L1414.9,931.0 L1416.9,931.4 L1418.9,931.7 L1421.0,932.1 L1423.1,932.4 L1425.3,932.8 L1427.6,933.1 L1429.8,933.5 L1432.2,933.8 L1434.6,934.2 L1437.0,934.5 L1439.5,934.8 L1442.0,935.1 L1444.6,935.4 L1447.3,935.8 L1450.0,936.1 L1452.7,936.4 L1455.5,936.7 L1458.3,937.0 L1461.2,937.3 L1464.1,937.6 L1467.1,937.8 L1470.1,938.1 L1473.2,938.4 L1476.3,938.7 L1479.5,938.9 L1482.7,939.2 L1486.0,939.4 L1489.3,939.7 L1492.6,939.9 L1496.0,940.2 L1499.5,940.4 L1502.9,940.7 L1506.5,940.9 L1510.0,941.1 L1513.6,941.3 L1517.3,941.5 L1521.0,941.7 L1524.7,941.9 L1528.5,942.1 L1532.3,942.3 L1536.2,942.5 L1540.1,942.7 L1544.0,942.9 L1548.0,943.0 L1552.0,943.2 L1556.0,943.4 L1560.1,943.5 L1564.3,943.7 L1568.4,943.8 L1572.6,943.9 L1576.8,944.1 L1581.1,944.2 L1585.4,944.3 L1589.8,944.4 L1594.1,944.6 L1598.5,944.7 L1603.0,944.8 L1607.4,944.9 L1611.9,944.9 L1616.5,945.0 L1621.0,945.1 L1625.6,945.2 L1630.3,945.2 L1634.9,945.3 L1639.6,945.4 L1644.3,945.4 L1649.0,945.5 L1653.8,945.5 L1658.6,945.5 L1663.4,945.6 L1668.3,945.6 L1673.1,945.6 L1678.0,945.6 L1682.9,945.6 L1687.9,945.6 L1692.8,945.6 L1697.8,945.6 L1702.8,945.6 L1707.9,945.6 L1712.9,945.6 L1718.0,945.6 L1723.1,945.5 L1728.2,945.5 L1733.3,945.4 L1738.5,945.4 L1743.6,945.4 L1748.8,945.3 L1754.0,945.2 L1759.2,945.2 L1764.4,945.1 L1769.7,945.0 L1774.9,945.0 L1780.2,944.9 L1785.5,944.8 L1790.8,944.7 L1796.1,944.6 L1801.4,944.5 L1806.7,944.4 L1812.0,944.3 L1817.4,944.2 L1822.7,944.1 L1828.1,944.0 L1833.5,943.8 L1838.8,943.7 L1844.2,943.6 L1849.6,943.5 L1855.0,943.3 L1860.4,943.2 L1865.8,943.0 L1871.2,942.9 L1876.6,942.8 L1882.0,942.6 L1887.4,942.4 L1892.8,942.3 L1898.3,942.1 L1903.7,942.0 L1909.1,941.8 L1914.5,941.6 L1919.9,941.5 L1925.3,941.3 L1930.7,941.1 L1936.1,940.9 L1941.5,940.7 L1946.9,940.6 L1952.3,940.4 L1957.6,940.2 L1963.0,940.0 L1968.4,939.8 L1973.7,939.6 L1979.1,939.4 L1984.4,939.2 L1989.7,939.0 L1995.0,938.8 L2000.3,938.6 L2005.6,938.4 L2010.9,938.2 L2016.2,938.0 L2021.4,937.8 L2026.7,937.6 L2031.9,937.3 L2037.1,937.1 L2042.3,936.9 L2047.5,936.7 L2052.6,936.5 L2057.8,936.3 L2062.9,936.0 L2068.0,935.8 L2073.1,935.6 L2078.2,935.4 L2083.2,935.2 L2088.3,934.9 L2093.3,934.7 L2098.3,934.5 L2103.2,934.2 L2108.2,934.0 L2113.1,933.8 L2118.0,933.6 L2122.8,933.3 L2127.7,933.1 L2132.5,932.9 L2137.3,932.7 L2142.1,932.4 L2146.8,932.2 L2151.5,932.0 L2156.2,931.7 L2160.8,931.5 L2165.5,931.3 L2170.1,931.0 L2174.6,930.8 L2179.2,930.6 L2183.7,930.4 L2188.1,930.1 L2192.6,929.9 L2197.0,929.7 L2201.3,929.5 L2205.7,929.2 L2210.0,929.0 L2214.3,928.8 L2218.5,928.6 L2222.7,928.3 L2226.8,928.1 L2231.0,927.9 L2235.1,927.7 L2239.1,927.5 L2243.1,927.2 L2247.1,927.0 L2251.0,926.8 L2254.9,926.6 L2258.8,926.4 L2262.6,926.2 L2266.4,926.0 L2270.1,925.7 L2273.8,925.5 L2277.5,925.3 L2281.1,925.1 L2284.6,924.9 L2288.2,924.7 L2291.6,924.5 L2295.1,924.3 L2298.5,924.1 L2301.8,923.9 L2305.1,923.7 L2308.4,923.6 L2311.6,923.4 L2314.8,923.2 L2317.9,923.0 L2321.0,922.8 L2324.0,922.6 L2327.0,922.5 L2329.9,922.3 L2332.8,922.1 L2335.6,921.9 L2338.4,921.8 L2341.1,921.6 L2343.8,921.4 L2346.5,921.3 L2349.1,921.1 L2351.6,921.0 L2354.1,920.8 L2356.5,920.7 L2358.9,920.5 L2361.3,920.4 L2363.5,920.2 L2365.8,920.1 L2368.0,919.9 L2370.1,919.8 L2372.2,919.7 L2374.2,919.6 L2376.2,919.4 L2378.1,919.3 L2379.9,919.2 L2381.8,919.1 L2383.5,919.0 L2385.2,918.9 L2386.9,918.8 L2388.5,918.6 L2390.0,918.5 L2391.5,918.5 L2392.9,918.4 L2394.3,918.3 L2395.6,918.2 L2396.9,918.1 L2398.1,918.0 L2399.3,918.0 L2400.4,917.9 L2401.4,917.8 L2402.4,917.7 L2403.3,917.7 L2404.2,917.6 L2405.0,917.6 L2405.8,917.5 L2406.5,917.5 L2407.2,917.4 L2407.8,917.4 L2408.3,917.4 L2408.8,917.3 L2409.2,917.3 L2409.6,917.3 L2409.9,917.3 L2410.1,917.2 L2410.3,917.2 L2410.5,917.2 L2410.6,917.2 L2410.6,917.2" fill="none" stroke="#000" stroke-width="9.5" stroke-linejoin="round" stroke-linecap="butt"/><path d="M2410.6,892.8 L2410.6,892.8 L2410.5,892.8 L2410.3,892.8 L2410.1,892.8 L2409.9,892.8 L2409.6,892.8 L2409.2,892.8 L2408.8,892.8 L2408.3,892.8 L2407.8,892.8 L2407.2,892.7 L2406.5,892.7 L2405.8,892.7 L2405.0,892.7 L2404.2,892.7 L2403.3,892.7 L2402.4,892.7 L2401.4,892.7 L2400.4,892.6 L2399.3,892.6 L2398.1,892.6 L2396.9,892.6 L2395.6,892.6 L2394.3,892.6 L2392.9,892.5 L2391.5,892.5 L2390.0,892.5 L2388.5,892.5 L2386.9,892.5 L2385.2,892.4 L2383.5,892.4 L2381.8,892.4 L2379.9,892.4 L2378.1,892.4 L2376.2,892.3 L2374.2,892.3 L2372.2,892.3 L2370.1,892.3 L2368.0,892.2 L2365.8,892.2 L2363.5,892.2 L2361.3,892.2 L2358.9,892.2 L2356.5,892.1 L2354.1,892.1 L2351.6,892.1 L2349.1,892.1 L2346.5,892.1 L2343.8,892.1 L2341.1,892.0 L2338.4,892.0 L2335.6,892.0 L2332.8,892.0 L2329.9,892.0 L2327.0,892.0 L2324.0,891.9 L2321.0,891.9 L2317.9,891.9 L2314.8,891.9 L2311.6,891.9 L2308.4,891.9 L2305.1,891.9 L2301.8,891.9 L2298.5,891.9 L2295.1,891.9 L2291.6,891.9 L2288.2,891.9 L2284.6,891.9 L2281.1,891.9 L2277.5,891.9 L2273.8,891.9 L2270.1,891.9 L2266.4,891.9 L2262.6,891.9 L2258.8,891.9 L2254.9,891.9 L2251.0,891.9 L2247.1,891.9 L2243.1,891.9 L2239.1,891.9 L2235.1,891.9 L2231.0,891.9 L2226.8,891.9 L2222.7,891.9 L2218.5,892.0 L2214.3,892.0 L2210.0,892.0 L2205.7,892.0 L2201.3,892.0 L2197.0,892.0 L2192.6,892.1 L2188.1,892.1 L2183.7,892.1 L2179.2,892.1 L2174.6,892.1 L2170.1,892.2 L2165.5,892.2 L2160.8,892.2 L2156.2,892.2 L2151.5,892.3 L2146.8,892.3 L2142.1,892.3 L2137.3,892.3 L2132.5,892.4 L2127.7,892.4 L2122.8,892.4 L2118.0,892.5 L2113.1,892.5 L2108.2,892.5 L2103.2,892.5 L2098.3,892.6 L2093.3,892.6 L2088.3,892.6 L2083.2,892.7 L2078.2,892.7 L2073.1,892.7 L2068.0,892.8 L2062.9,892.8 L2057.8,892.9 L2052.6,892.9 L2047.5,892.9 L2042.3,893.0 L2037.1,893.0 L2031.9,893.1 L2026.7,893.1 L2021.4,893.1 L2016.2,893.2 L2010.9,893.2 L2005.6,893.3 L2000.3,893.3 L1995.0,893.4 L1989.7,893.4 L1984.4,893.5 L1979.1,893.5 L1973.7,893.6 L1968.4,893.6 L1963.0,893.7 L1957.6,893.7 L1952.3,893.8 L1946.9,893.9 L1941.5,893.9 L1936.1,894.0 L1930.7,894.1 L1925.3,894.1 L1919.9,894.2 L1914.5,894.3 L1909.1,894.3 L1903.7,894.4 L1898.3,894.5 L1892.8,894.6 L1887.4,894.6 L1882.0,894.7 L1876.6,894.8 L1871.2,894.9 L1865.8,895.0 L1860.4,895.1 L1855.0,895.2 L1849.6,895.3 L1844.2,895.4 L1838.8,895.5 L1833.5,895.6 L1828.1,895.7 L1822.7,895.9 L1817.4,896.0 L1812.0,896.1 L1806.7,896.2 L1801.4,896.4 L1796.1,896.5 L1790.8,896.6 L1785.5,896.8 L1780.2,896.9 L1774.9,897.1 L1769.7,897.3 L1764.4,897.4 L1759.2,897.6 L1754.0,897.8 L1748.8,897.9 L1743.6,898.1 L1738.5,898.3 L1733.3,898.5 L1728.2,898.7 L1723.1,898.9 L1718.0,899.1 L1712.9,899.3 L1707.9,899.5 L1702.8,899.7 L1697.8,899.9 L1692.8,900.2 L1687.9,900.4 L1682.9,900.6 L1678.0,900.9 L1673.1,901.1 L1668.3,901.4 L1663.4,901.6 L1658.6,901.9 L1653.8,902.2 L1649.0,902.4 L1644.3,902.7 L1639.6,903.0 L1634.9,903.3 L1630.3,903.6 L1625.6,903.9 L1621.0,904.2 L1616.5,904.5 L1611.9,904.8 L1607.4,905.1 L1603.0,905.4 L1598.5,905.8 L1594.1,906.1 L1589.8,906.4 L1585.4,906.8 L1581.1,907.1 L1576.8,907.4 L1572.6,907.8 L1568.4,908.2 L1564.3,908.5 L1560.1,908.9 L1556.0,909.2 L1552.0,909.6 L1548.0,910.0 L1544.0,910.4 L1540.1,910.7 L1536.2,911.1 L1532.3,911.5 L1528.5,911.9 L1524.7,912.3 L1521.0,912.7 L1517.3,913.1 L1513.6,913.5 L1510.0,913.9 L1506.5,914.3 L1502.9,914.7 L1499.5,915.1 L1496.0,915.5 L1492.6,915.9 L1489.3,916.3 L1486.0,916.7 L1482.7,917.1 L1479.5,917.5 L1476.3,917.9 L1473.2,918.4 L1470.1,918.8 L1467.1,919.2 L1464.1,919.6 L1461.2,920.0 L1458.3,920.5 L1455.5,920.9 L1452.7,921.3 L1450.0,921.7 L1447.3,922.1 L1444.6,922.5 L1442.0,923.0 L1439.5,923.4 L1437.0,923.8 L1434.6,924.2 L1432.2,924.6 L1429.8,925.0 L1427.6,925.5 L1425.3,925.9 L1423.1,926.3 L1421.0,926.7 L1418.9,927.1 L1416.9,927.5 L1414.9,927.9 L1413.0,928.3 L1411.2,928.7 L1409.3,929.1 L1407.6,929.5 L1405.9,929.9 L1404.2,930.3 L1402.6,930.7 L1401.1,931.1 L1399.6,931.5 L1398.2,931.9 L1396.8,932.3 L1395.5,932.6 L1394.2,933.0 L1393.0,933.4 L1391.8,933.8 L1390.7,934.2 L1389.7,934.5 L1388.7,934.9 L1387.8,935.3 L1386.9,935.6 L1386.1,936.0 L1385.3,936.4 L1384.6,936.7 L1383.9,937.1 L1383.3,937.4 L1382.8,937.8 L1382.3,938.1 L1381.9,938.5 L1381.5,938.8 L1381.2,939.1 L1381.0,939.5 L1380.8,939.8 L1380.6,940.1 L1380.5,940.5 L1380.5,940.8 L1380.5,941.2 L1380.6,941.7 L1380.8,942.1 L1381.0,942.5 L1381.2,942.9 L1381.5,943.4 L1381.9,943.8 L1382.3,944.2 L1382.8,944.6 L1383.3,945.0 L1383.9,945.4 L1384.6,945.8 L1385.3,946.2 L1386.1,946.6 L1386.9,947.0 L1387.8,947.4 L1388.7,947.8 L1389.7,948.2 L1390.7,948.6 L1391.8,949.0 L1393.0,949.4 L1394.2,949.8 L1395.5,950.2 L1396.8,950.5 L1398.2,950.9 L1399.6,951.3 L1401.1,951.6 L1402.6,952.0 L1404.2,952.4 L1405.9,952.7 L1407.6,953.1 L1409.3,953.4 L1411.2,953.8 L1413.0,954.1 L1414.9,954.5 L1416.9,954.8 L1418.9,955.2 L1421.0,955.5 L1423.1,955.8 L1425.3,956.1 L1427.6,956.5 L1429.8,956.8 L1432.2,957.1 L1434.6,957.4 L1437.0,957.7 L1439.5,958.0 L1442.0,958.3 L1444.6,958.6 L1447.3,958.8 L1450.0,959.1 L1452.7,959.4 L1455.5,959.6 L1458.3,959.9 L1461.2,960.1 L1464.1,960.4 L1467.1,960.6 L1470.1,960.9 L1473.2,961.1 L1476.3,961.3 L1479.5,961.5 L1482.7,961.7 L1486.0,961.9 L1489.3,962.1 L1492.6,962.3 L1496.0,962.4 L1499.5,962.6 L1502.9,962.7 L1506.5,962.9 L1510.0,963.0 L1513.6,963.1 L1517.3,963.2 L1521.0,963.3 L1524.7,963.4 L1528.5,963.5 L1532.3,963.6 L1536.2,963.6 L1540.1,963.7 L1544.0,963.7 L1548.0,963.8 L1552.0,963.8 L1556.0,963.8 L1560.1,963.8 L1564.3,963.8 L1568.4,963.7 L1572.6,963.7 L1576.8,963.6 L1581.1,963.6 L1585.4,963.5 L1589.8,963.4 L1594.1,963.3 L1598.5,963.2 L1603.0,963.1 L1607.4,962.9 L1611.9,962.8 L1616.5,962.6 L1621.0,962.5 L1625.6,962.3 L1630.3,962.1 L1634.9,961.9 L1639.6,961.7 L1644.3,961.4 L1649.0,961.2 L1653.8,960.9 L1658.6,960.7 L1663.4,960.4 L1668.3,960.1 L1673.1,959.8 L1678.0,959.5 L1682.9,959.2 L1687.9,958.8 L1692.8,958.5 L1697.8,958.1 L1702.8,957.8 L1707.9,957.4 L1712.9,957.0 L1718.0,956.6 L1723.1,956.2 L1728.2,955.8 L1733.3,955.4 L1738.5,954.9 L1743.6,954.5 L1748.8,954.0 L1754.0,953.6 L1759.2,953.1 L1764.4,952.6 L1769.7,952.2 L1774.9,951.7 L1780.2,951.2 L1785.5,950.7 L1790.8,950.2 L1796.1,949.7 L1801.4,949.1 L1806.7,948.6 L1812.0,948.1 L1817.4,947.5 L1822.7,947.0 L1828.1,946.5 L1833.5,945.9 L1838.8,945.4 L1844.2,944.8 L1849.6,944.3 L1855.0,943.7 L1860.4,943.2 L1865.8,942.6 L1871.2,942.0 L1876.6,941.5 L1882.0,940.9 L1887.4,940.3 L1892.8,939.8 L1898.3,939.2 L1903.7,938.7 L1909.1,938.1 L1914.5,937.5 L1919.9,937.0 L1925.3,936.4 L1930.7,935.9 L1936.1,935.3 L1941.5,934.7 L1946.9,934.2 L1952.3,933.6 L1957.6,933.1 L1963.0,932.6 L1968.4,932.0 L1973.7,931.5 L1979.1,930.9 L1984.4,930.4 L1989.7,929.9 L1995.0,929.4 L2000.3,928.9 L2005.6,928.3 L2010.9,927.8 L2016.2,927.3 L2021.4,926.8 L2026.7,926.3 L2031.9,925.9 L2037.1,925.4 L2042.3,924.9 L2047.5,924.4 L2052.6,924.0 L2057.8,923.5 L2062.9,923.0 L2068.0,922.6 L2073.1,922.1 L2078.2,921.7 L2083.2,921.3 L2088.3,920.8 L2093.3,920.4 L2098.3,920.0 L2103.2,919.6 L2108.2,919.1 L2113.1,918.7 L2118.0,918.3 L2122.8,917.9 L2127.7,917.6 L2132.5,917.2 L2137.3,916.8 L2142.1,916.4 L2146.8,916.0 L2151.5,915.7 L2156.2,915.3 L2160.8,914.9 L2165.5,914.6 L2170.1,914.2 L2174.6,913.9 L2179.2,913.5 L2183.7,913.2 L2188.1,912.9 L2192.6,912.5 L2197.0,912.2 L2201.3,911.9 L2205.7,911.6 L2210.0,911.2 L2214.3,910.9 L2218.5,910.6 L2222.7,910.3 L2226.8,910.0 L2231.0,909.7 L2235.1,909.4 L2239.1,909.1 L2243.1,908.8 L2247.1,908.5 L2251.0,908.2 L2254.9,907.9 L2258.8,907.6 L2262.6,907.3 L2266.4,907.1 L2270.1,906.8 L2273.8,906.5 L2277.5,906.2 L2281.1,905.9 L2284.6,905.7 L2288.2,905.4 L2291.6,905.1 L2295.1,904.9 L2298.5,904.6 L2301.8,904.3 L2305.1,904.1 L2308.4,903.8 L2311.6,903.5 L2314.8,903.3 L2317.9,903.0 L2321.0,902.8 L2324.0,902.5 L2327.0,902.2 L2329.9,902.0 L2332.8,901.7 L2335.6,901.5 L2338.4,901.3 L2341.1,901.0 L2343.8,900.8 L2346.5,900.5 L2349.1,900.3 L2351.6,900.1 L2354.1,899.8 L2356.5,899.6 L2358.9,899.4 L2361.3,899.2 L2363.5,898.9 L2365.8,898.7 L2368.0,898.5 L2370.1,898.3 L2372.2,898.1 L2374.2,897.9 L2376.2,897.7 L2378.1,897.5 L2379.9,897.3 L2381.8,897.1 L2383.5,897.0 L2385.2,896.8 L2386.9,896.6 L2388.5,896.4 L2390.0,896.3 L2391.5,896.1 L2392.9,896.0 L2394.3,895.8 L2395.6,895.7 L2396.9,895.5 L2398.1,895.4 L2399.3,895.3 L2400.4,895.1 L2401.4,895.0 L2402.4,894.9 L2403.3,894.8 L2404.2,894.7 L2405.0,894.6 L2405.8,894.5 L2406.5,894.4 L2407.2,894.4 L2407.8,894.3 L2408.3,894.2 L2408.8,894.2 L2409.2,894.1 L2409.6,894.1 L2409.9,894.0 L2410.1,894.0 L2410.3,894.0 L2410.5,894.0 L2410.6,894.0 L2410.6,894.0" fill="none" stroke="#f00" stroke-width="9.5" stroke-linejoin="round" stroke-linecap="butt"/><g fill="#404040" font-size="49" stroke="#fff" stroke-width="0.5"><text transform="translate(1371.3,739.9) scale(1,1.06)" text-anchor="end">0.<tspan dx="4.1">1</tspan></text><text transform="translate(1369.6,836.6) scale(1,1.06)" text-anchor="end">0.05</text><text transform="translate(1369.6,933.4) scale(1,1.06)" text-anchor="end">0</text><text transform="translate(1369.6,1030.1) scale(1,1.06)" text-anchor="end">0.05</text><text x="1235.5" y="1023.0" font-size="42">−</text><text transform="translate(1371.3,1126.9) scale(1,1.06)" text-anchor="end">0.<tspan dx="4.1">1</tspan></text><text x="1261.5" y="1119.8" font-size="42">−</text><text transform="translate(1378.3,1169.3) scale(1,1.06)" text-anchor="middle">0</text><text transform="translate(1893.3,1169.3) scale(1,1.06)" text-anchor="middle">0.5</text><text transform="translate(2412.5,1169.3) scale(1,1.06)" text-anchor="middle">1</text></g><path d="M1346.90,735.50h9.75v6h-9.75z M1360.45,735.50h9.3v6h-9.3z M1346.90,1122.50h9.75v6h-9.75z M1360.45,1122.50h9.3v6h-9.3z M2401.68,1164.90h9.75v6h-9.75z M2415.22,1164.90h9.3v6h-9.3z" fill="#fff"/><text transform="translate(1705.0,689.2) scale(1,1.02)" font-size="73" letter-spacing="0.65" fill="#000">Section GH</text><path d="M547.3,1256.1 H830.9" stroke="#000" stroke-width="9.5"/><path d="M1229.8,1259.3 H1514" stroke="#f00" stroke-width="9.5"/><text transform="translate(870.0,1281.2) scale(1,1.02)" font-size="73" letter-spacing="1.51" fill="#000">Baseline</text><text transform="translate(1553.0,1281.2) scale(1,1.02)" font-size="73" letter-spacing="1.4" fill="#000">optimized</text></svg></body></html>
